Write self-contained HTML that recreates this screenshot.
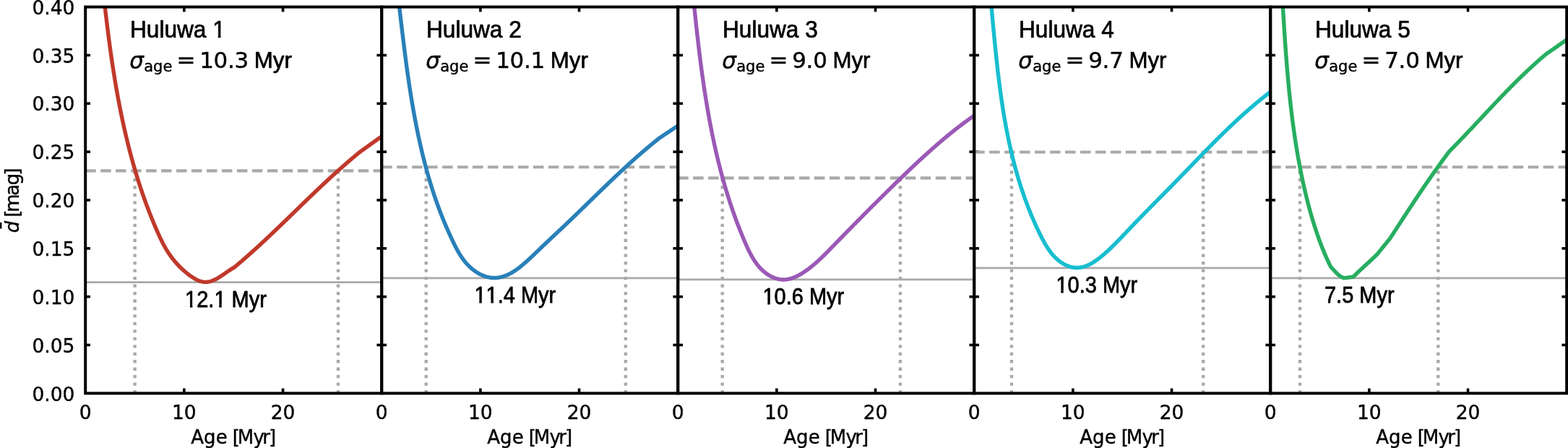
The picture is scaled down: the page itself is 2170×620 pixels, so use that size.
<!DOCTYPE html>
<html lang="en"><head><meta charset="utf-8">
<style>html,body{margin:0;padding:0;background:#fff}svg{display:block}.dv{font-family:"DejaVu Sans",sans-serif}.lib{font-family:"Liberation Sans",sans-serif}text{fill:#000;stroke:#000;stroke-width:0.4px;stroke-linejoin:round;font-kerning:none;font-variant-ligatures:none}.lib{stroke-width:0.7px}</style></head><body>
<svg width="2170" height="620" viewBox="0 0 2170 620">
<rect width="2170" height="620" fill="#fff"/>
<defs>
<clipPath id="c0"><rect x="118.20" y="9.60" width="410.00" height="534.70"/></clipPath>
<clipPath id="c1"><rect x="528.20" y="9.60" width="410.00" height="534.70"/></clipPath>
<clipPath id="c2"><rect x="938.20" y="9.60" width="410.00" height="534.70"/></clipPath>
<clipPath id="c3"><rect x="1348.20" y="9.60" width="410.00" height="534.70"/></clipPath>
<clipPath id="c4"><rect x="1758.20" y="9.60" width="410.00" height="534.70"/></clipPath>
</defs>
<g stroke="#000" stroke-width="3.6">
<line x1="254.87" x2="254.87" y1="544.30" y2="537.50"/>
<line x1="254.87" x2="254.87" y1="9.60" y2="16.40"/>
<line x1="391.53" x2="391.53" y1="544.30" y2="537.50"/>
<line x1="391.53" x2="391.53" y1="9.60" y2="16.40"/>
<line x1="118.20" x2="125.00" y1="477.46" y2="477.46"/>
<line x1="528.20" x2="521.40" y1="477.46" y2="477.46"/>
<line x1="118.20" x2="125.00" y1="410.62" y2="410.62"/>
<line x1="528.20" x2="521.40" y1="410.62" y2="410.62"/>
<line x1="118.20" x2="125.00" y1="343.79" y2="343.79"/>
<line x1="528.20" x2="521.40" y1="343.79" y2="343.79"/>
<line x1="118.20" x2="125.00" y1="276.95" y2="276.95"/>
<line x1="528.20" x2="521.40" y1="276.95" y2="276.95"/>
<line x1="118.20" x2="125.00" y1="210.11" y2="210.11"/>
<line x1="528.20" x2="521.40" y1="210.11" y2="210.11"/>
<line x1="118.20" x2="125.00" y1="143.27" y2="143.27"/>
<line x1="528.20" x2="521.40" y1="143.27" y2="143.27"/>
<line x1="118.20" x2="125.00" y1="76.44" y2="76.44"/>
<line x1="528.20" x2="521.40" y1="76.44" y2="76.44"/>
<line x1="664.87" x2="664.87" y1="544.30" y2="537.50"/>
<line x1="664.87" x2="664.87" y1="9.60" y2="16.40"/>
<line x1="801.53" x2="801.53" y1="544.30" y2="537.50"/>
<line x1="801.53" x2="801.53" y1="9.60" y2="16.40"/>
<line x1="528.20" x2="535.00" y1="477.46" y2="477.46"/>
<line x1="938.20" x2="931.40" y1="477.46" y2="477.46"/>
<line x1="528.20" x2="535.00" y1="410.62" y2="410.62"/>
<line x1="938.20" x2="931.40" y1="410.62" y2="410.62"/>
<line x1="528.20" x2="535.00" y1="343.79" y2="343.79"/>
<line x1="938.20" x2="931.40" y1="343.79" y2="343.79"/>
<line x1="528.20" x2="535.00" y1="276.95" y2="276.95"/>
<line x1="938.20" x2="931.40" y1="276.95" y2="276.95"/>
<line x1="528.20" x2="535.00" y1="210.11" y2="210.11"/>
<line x1="938.20" x2="931.40" y1="210.11" y2="210.11"/>
<line x1="528.20" x2="535.00" y1="143.27" y2="143.27"/>
<line x1="938.20" x2="931.40" y1="143.27" y2="143.27"/>
<line x1="528.20" x2="535.00" y1="76.44" y2="76.44"/>
<line x1="938.20" x2="931.40" y1="76.44" y2="76.44"/>
<line x1="1074.87" x2="1074.87" y1="544.30" y2="537.50"/>
<line x1="1074.87" x2="1074.87" y1="9.60" y2="16.40"/>
<line x1="1211.53" x2="1211.53" y1="544.30" y2="537.50"/>
<line x1="1211.53" x2="1211.53" y1="9.60" y2="16.40"/>
<line x1="938.20" x2="945.00" y1="477.46" y2="477.46"/>
<line x1="1348.20" x2="1341.40" y1="477.46" y2="477.46"/>
<line x1="938.20" x2="945.00" y1="410.62" y2="410.62"/>
<line x1="1348.20" x2="1341.40" y1="410.62" y2="410.62"/>
<line x1="938.20" x2="945.00" y1="343.79" y2="343.79"/>
<line x1="1348.20" x2="1341.40" y1="343.79" y2="343.79"/>
<line x1="938.20" x2="945.00" y1="276.95" y2="276.95"/>
<line x1="1348.20" x2="1341.40" y1="276.95" y2="276.95"/>
<line x1="938.20" x2="945.00" y1="210.11" y2="210.11"/>
<line x1="1348.20" x2="1341.40" y1="210.11" y2="210.11"/>
<line x1="938.20" x2="945.00" y1="143.27" y2="143.27"/>
<line x1="1348.20" x2="1341.40" y1="143.27" y2="143.27"/>
<line x1="938.20" x2="945.00" y1="76.44" y2="76.44"/>
<line x1="1348.20" x2="1341.40" y1="76.44" y2="76.44"/>
<line x1="1484.87" x2="1484.87" y1="544.30" y2="537.50"/>
<line x1="1484.87" x2="1484.87" y1="9.60" y2="16.40"/>
<line x1="1621.53" x2="1621.53" y1="544.30" y2="537.50"/>
<line x1="1621.53" x2="1621.53" y1="9.60" y2="16.40"/>
<line x1="1348.20" x2="1355.00" y1="477.46" y2="477.46"/>
<line x1="1758.20" x2="1751.40" y1="477.46" y2="477.46"/>
<line x1="1348.20" x2="1355.00" y1="410.62" y2="410.62"/>
<line x1="1758.20" x2="1751.40" y1="410.62" y2="410.62"/>
<line x1="1348.20" x2="1355.00" y1="343.79" y2="343.79"/>
<line x1="1758.20" x2="1751.40" y1="343.79" y2="343.79"/>
<line x1="1348.20" x2="1355.00" y1="276.95" y2="276.95"/>
<line x1="1758.20" x2="1751.40" y1="276.95" y2="276.95"/>
<line x1="1348.20" x2="1355.00" y1="210.11" y2="210.11"/>
<line x1="1758.20" x2="1751.40" y1="210.11" y2="210.11"/>
<line x1="1348.20" x2="1355.00" y1="143.27" y2="143.27"/>
<line x1="1758.20" x2="1751.40" y1="143.27" y2="143.27"/>
<line x1="1348.20" x2="1355.00" y1="76.44" y2="76.44"/>
<line x1="1758.20" x2="1751.40" y1="76.44" y2="76.44"/>
<line x1="1894.87" x2="1894.87" y1="544.30" y2="537.50"/>
<line x1="1894.87" x2="1894.87" y1="9.60" y2="16.40"/>
<line x1="2031.53" x2="2031.53" y1="544.30" y2="537.50"/>
<line x1="2031.53" x2="2031.53" y1="9.60" y2="16.40"/>
<line x1="1758.20" x2="1765.00" y1="477.46" y2="477.46"/>
<line x1="2168.20" x2="2161.40" y1="477.46" y2="477.46"/>
<line x1="1758.20" x2="1765.00" y1="410.62" y2="410.62"/>
<line x1="2168.20" x2="2161.40" y1="410.62" y2="410.62"/>
<line x1="1758.20" x2="1765.00" y1="343.79" y2="343.79"/>
<line x1="2168.20" x2="2161.40" y1="343.79" y2="343.79"/>
<line x1="1758.20" x2="1765.00" y1="276.95" y2="276.95"/>
<line x1="2168.20" x2="2161.40" y1="276.95" y2="276.95"/>
<line x1="1758.20" x2="1765.00" y1="210.11" y2="210.11"/>
<line x1="2168.20" x2="2161.40" y1="210.11" y2="210.11"/>
<line x1="1758.20" x2="1765.00" y1="143.27" y2="143.27"/>
<line x1="2168.20" x2="2161.40" y1="143.27" y2="143.27"/>
<line x1="1758.20" x2="1765.00" y1="76.44" y2="76.44"/>
<line x1="2168.20" x2="2161.40" y1="76.44" y2="76.44"/>
</g>
<g clip-path="url(#c0)">
<line x1="118.20" x2="528.20" y1="390.57" y2="390.57" stroke="#a9a9a9" stroke-width="2.7"/>
<line x1="118.20" x2="528.20" y1="236.45" y2="236.45" stroke="#a9a9a9" stroke-width="4.2" stroke-dasharray="14.5 6.47"/>
<line x1="186.60" x2="186.60" y1="544.30" y2="236.45" stroke="#a9a9a9" stroke-width="4.4" stroke-dasharray="4.3 6.17"/>
<line x1="468.00" x2="468.00" y1="544.30" y2="236.45" stroke="#a9a9a9" stroke-width="4.4" stroke-dasharray="4.3 6.17"/>
<path d="M143.10,-10.00 L143.21,-9.01 L143.32,-8.02 L143.42,-7.02 L143.53,-6.03 L143.64,-5.04 L143.75,-4.05 L143.86,-3.05 L143.97,-2.06 L144.08,-1.07 L144.19,-0.08 L144.30,0.92 L144.41,1.91 L144.52,2.90 L144.63,3.90 L144.74,4.89 L144.85,5.88 L144.96,6.88 L145.08,7.87 L145.19,8.87 L145.30,9.86 L145.41,10.85 L145.53,11.85 L145.64,12.84 L145.76,13.84 L145.87,14.83 L145.98,15.83 L146.10,16.82 L146.22,17.82 L146.33,18.81 L146.45,19.81 L146.56,20.80 L146.68,21.80 L146.80,22.79 L146.92,23.79 L147.03,24.78 L147.15,25.78 L147.27,26.77 L147.39,27.77 L147.51,28.76 L147.63,29.76 L147.75,30.75 L147.87,31.75 L147.99,32.74 L148.11,33.74 L148.24,34.74 L148.36,35.73 L148.48,36.73 L148.60,37.72 L148.73,38.72 L148.85,39.72 L148.98,40.71 L149.10,41.71 L149.23,42.70 L149.35,43.70 L149.48,44.70 L149.60,45.69 L149.73,46.69 L149.86,47.68 L149.99,48.68 L150.12,49.68 L150.24,50.67 L150.37,51.67 L150.50,52.67 L150.63,53.66 L150.77,54.66 L150.90,55.65 L151.03,56.65 L151.16,57.65 L151.29,58.64 L151.43,59.64 L151.56,60.64 L151.70,61.63 L151.83,62.63 L151.97,63.62 L152.10,64.62 L152.24,65.62 L152.38,66.61 L152.51,67.61 L152.65,68.60 L152.79,69.60 L152.93,70.60 L153.07,71.59 L153.21,72.59 L153.35,73.58 L153.49,74.58 L153.63,75.58 L153.77,76.57 L153.92,77.57 L154.06,78.56 L154.21,79.56 L154.35,80.55 L154.50,81.55 L154.64,82.55 L154.79,83.54 L154.94,84.54 L155.08,85.53 L155.23,86.53 L155.38,87.52 L155.53,88.52 L155.68,89.51 L155.83,90.51 L155.98,91.50 L156.13,92.50 L156.29,93.49 L156.44,94.49 L156.59,95.48 L156.75,96.47 L156.90,97.47 L157.06,98.46 L157.22,99.46 L157.37,100.45 L157.53,101.45 L157.69,102.44 L157.85,103.43 L158.01,104.43 L158.17,105.42 L158.33,106.41 L158.49,107.41 L158.65,108.40 L158.82,109.39 L158.98,110.39 L159.15,111.38 L159.31,112.37 L159.48,113.36 L159.64,114.36 L159.81,115.35 L159.98,116.34 L160.15,117.33 L160.32,118.33 L160.49,119.32 L160.66,120.31 L160.83,121.30 L161.00,122.29 L161.18,123.28 L161.35,124.28 L161.52,125.27 L161.70,126.26 L161.88,127.25 L162.05,128.24 L162.23,129.23 L162.41,130.22 L162.59,131.21 L162.77,132.20 L162.95,133.19 L163.13,134.18 L163.31,135.17 L163.50,136.16 L163.68,137.15 L163.87,138.14 L164.05,139.12 L164.24,140.11 L164.42,141.10 L164.61,142.09 L164.80,143.08 L164.99,144.07 L165.18,145.05 L165.37,146.04 L165.56,147.03 L165.76,148.01 L165.95,149.00 L166.15,149.99 L166.34,150.97 L166.54,151.96 L166.73,152.95 L166.93,153.93 L167.13,154.92 L167.33,155.90 L167.53,156.89 L167.73,157.87 L167.94,158.86 L168.14,159.84 L168.34,160.83 L168.55,161.81 L168.75,162.80 L168.96,163.78 L169.17,164.76 L169.38,165.75 L169.59,166.73 L169.80,167.71 L170.01,168.69 L170.22,169.68 L170.43,170.66 L170.65,171.64 L170.86,172.62 L171.08,173.60 L171.29,174.58 L171.51,175.57 L171.73,176.55 L171.95,177.53 L172.17,178.51 L172.39,179.49 L172.62,180.47 L172.84,181.44 L173.06,182.42 L173.29,183.40 L173.51,184.38 L173.74,185.36 L173.97,186.34 L174.20,187.31 L174.43,188.29 L174.66,189.27 L174.89,190.24 L175.13,191.22 L175.36,192.20 L175.60,193.17 L175.83,194.15 L176.07,195.12 L176.31,196.10 L176.55,197.07 L176.79,198.05 L177.03,199.02 L177.27,200.00 L177.51,200.97 L177.76,201.94 L178.00,202.91 L178.25,203.89 L178.50,204.86 L178.75,205.83 L179.00,206.80 L179.25,207.77 L179.50,208.74 L179.75,209.72 L180.01,210.69 L180.26,211.66 L180.52,212.62 L180.77,213.59 L181.03,214.56 L181.29,215.53 L181.55,216.50 L181.81,217.47 L182.08,218.43 L182.34,219.40 L182.61,220.37 L182.87,221.34 L183.14,222.30 L183.41,223.27 L183.68,224.23 L183.95,225.20 L184.22,226.16 L184.49,227.13 L184.76,228.09 L185.04,229.05 L185.32,230.02 L185.59,230.98 L185.87,231.94 L186.15,232.90 L186.43,233.87 L186.71,234.83 L187.00,235.79 L187.28,236.75 L187.57,237.71 L187.85,238.67 L188.14,239.63 L188.43,240.59 L188.72,241.55 L189.01,242.50 L189.30,243.46 L189.60,244.42 L189.89,245.38 L190.19,246.33 L190.49,247.29 L190.79,248.24 L191.09,249.20 L191.39,250.15 L191.69,251.11 L191.99,252.06 L192.30,253.02 L192.60,253.97 L192.91,254.92 L193.22,255.87 L193.53,256.83 L193.84,257.78 L194.15,258.73 L194.46,259.68 L194.78,260.63 L195.10,261.58 L195.41,262.53 L195.73,263.48 L196.05,264.43 L196.37,265.37 L196.70,266.32 L197.02,267.27 L197.34,268.21 L197.67,269.16 L198.00,270.11 L198.33,271.05 L198.66,272.00 L198.99,272.94 L199.32,273.88 L199.66,274.83 L199.99,275.77 L200.33,276.71 L200.67,277.65 L201.01,278.60 L201.35,279.54 L201.69,280.48 L202.03,281.42 L202.38,282.36 L202.72,283.30 L203.07,284.23 L203.42,285.17 L203.77,286.11 L204.12,287.05 L204.47,287.98 L204.83,288.92 L205.18,289.85 L205.54,290.79 L205.90,291.72 L206.26,292.66 L206.62,293.59 L206.98,294.52 L207.35,295.46 L207.71,296.39 L208.08,297.32 L208.45,298.25 L208.82,299.18 L209.19,300.11 L209.56,301.04 L209.94,301.97 L210.31,302.90 L210.69,303.82 L211.07,304.75 L211.45,305.68 L211.83,306.60 L212.21,307.53 L212.60,308.46 L212.98,309.38 L213.37,310.30 L213.76,311.23 L214.15,312.15 L214.54,313.07 L214.93,313.99 L215.33,314.91 L215.72,315.83 L216.12,316.75 L216.52,317.67 L216.92,318.59 L217.32,319.51 L217.72,320.43 L218.13,321.35 L218.54,322.26 L218.95,323.18 L219.36,324.09 L219.77,325.01 L220.19,325.92 L220.61,326.83 L221.03,327.74 L221.45,328.65 L221.88,329.55 L222.31,330.46 L222.75,331.36 L223.19,332.27 L223.63,333.17 L224.08,334.07 L224.53,334.96 L224.99,335.86 L225.45,336.75 L225.92,337.64 L226.39,338.53 L226.87,339.41 L227.35,340.29 L227.84,341.17 L228.33,342.05 L228.83,342.93 L229.34,343.80 L229.85,344.67 L230.37,345.53 L230.90,346.39 L231.43,347.25 L231.98,348.11 L232.52,348.96 L233.08,349.81 L233.64,350.66 L234.21,351.50 L234.78,352.33 L235.37,353.17 L235.95,354.00 L236.55,354.82 L237.15,355.64 L237.76,356.46 L238.38,357.27 L239.00,358.08 L239.63,358.88 L240.27,359.68 L240.91,360.47 L241.56,361.26 L242.21,362.04 L242.87,362.82 L243.54,363.59 L244.22,364.36 L244.90,365.12 L245.59,365.88 L246.28,366.63 L246.98,367.37 L247.69,368.11 L248.40,368.85 L249.12,369.57 L249.85,370.29 L250.58,371.01 L251.32,371.71 L252.06,372.42 L252.81,373.11 L253.57,373.80 L254.33,374.48 L255.10,375.15 L255.87,375.82 L256.65,376.48 L257.44,377.13 L258.23,377.78 L259.03,378.41 L259.83,379.04 L260.64,379.67 L261.46,380.28 L262.28,380.89 L263.11,381.49 L263.94,382.08 L264.78,382.66 L265.62,383.23 L266.47,383.80 L267.33,384.35 L268.19,384.89 L269.05,385.42 L269.93,385.93 L270.80,386.42 L271.69,386.89 L272.57,387.34 L273.47,387.77 L274.36,388.17 L275.27,388.54 L276.17,388.88 L277.08,389.19 L278.00,389.47 L278.92,389.72 L279.85,389.92 L280.78,390.09 L281.71,390.22 L282.65,390.31 L283.59,390.35 L284.54,390.35 L285.49,390.31 L286.44,390.24 L287.39,390.12 L288.35,389.97 L289.30,389.78 L290.26,389.56 L291.21,389.31 L292.17,389.03 L293.12,388.72 L294.07,388.37 L295.02,388.01 L295.97,387.61 L296.91,387.19 L297.85,386.75 L298.78,386.28 L299.71,385.80 L300.64,385.30 L301.56,384.78 L302.47,384.24 L303.39,383.69 L304.29,383.12 L305.19,382.55 L306.09,381.97 L306.99,381.37 L307.87,380.78 L308.76,380.17 L309.64,379.57 L310.51,378.96 L311.38,378.35 L312.25,377.75 L313.11,377.14 L313.97,376.55 L314.82,375.95 L315.67,375.37 L316.51,374.80 L317.35,374.23 L318.18,373.68 L319.01,373.15 L319.84,372.62 L320.66,372.12 L321.47,371.63 L322.29,371.17 L323.10,370.72 L323.90,370.30 L324.67,369.66 L325.45,369.01 L326.22,368.36 L326.99,367.72 L327.76,367.07 L328.53,366.42 L329.30,365.77 L330.07,365.12 L330.84,364.46 L331.60,363.81 L332.37,363.16 L333.14,362.50 L333.90,361.85 L334.66,361.19 L335.43,360.53 L336.19,359.87 L336.95,359.21 L337.71,358.55 L338.47,357.89 L339.23,357.23 L339.98,356.57 L340.74,355.90 L341.50,355.24 L342.25,354.57 L343.01,353.91 L343.76,353.24 L344.51,352.57 L345.27,351.91 L346.02,351.24 L346.77,350.57 L347.52,349.90 L348.27,349.23 L349.02,348.55 L349.77,347.88 L350.52,347.21 L351.27,346.53 L352.01,345.86 L352.76,345.18 L353.50,344.51 L354.25,343.83 L354.99,343.15 L355.74,342.47 L356.48,341.79 L357.22,341.12 L357.96,340.44 L358.71,339.75 L359.45,339.07 L360.19,338.39 L360.93,337.71 L361.67,337.03 L362.41,336.34 L363.14,335.66 L363.88,334.97 L364.62,334.29 L365.36,333.60 L366.09,332.92 L366.83,332.23 L367.56,331.54 L368.30,330.85 L369.03,330.17 L369.77,329.48 L370.50,328.79 L371.23,328.10 L371.97,327.41 L372.70,326.72 L373.43,326.03 L374.16,325.34 L374.89,324.64 L375.62,323.95 L376.36,323.26 L377.09,322.57 L377.82,321.87 L378.55,321.18 L379.27,320.49 L380.00,319.79 L380.73,319.10 L381.46,318.40 L382.19,317.71 L382.92,317.01 L383.64,316.31 L384.37,315.62 L385.10,314.92 L385.82,314.22 L386.55,313.53 L387.28,312.83 L388.00,312.13 L388.73,311.43 L389.45,310.73 L390.18,310.04 L390.90,309.34 L391.63,308.64 L392.35,307.94 L393.08,307.24 L393.80,306.54 L394.53,305.84 L395.25,305.14 L395.97,304.44 L396.70,303.74 L397.42,303.04 L398.14,302.34 L398.87,301.64 L399.59,300.94 L400.31,300.24 L401.04,299.54 L401.76,298.84 L402.48,298.14 L403.21,297.43 L403.93,296.73 L404.65,296.03 L405.37,295.33 L406.10,294.63 L406.82,293.93 L407.54,293.23 L408.26,292.53 L408.99,291.83 L409.71,291.12 L410.43,290.42 L411.16,289.72 L411.88,289.02 L412.60,288.32 L413.32,287.62 L414.05,286.92 L414.77,286.22 L415.49,285.52 L416.22,284.81 L416.94,284.11 L417.66,283.41 L418.39,282.71 L419.11,282.01 L419.83,281.31 L420.56,280.61 L421.28,279.91 L422.00,279.21 L422.73,278.51 L423.45,277.81 L424.18,277.11 L424.90,276.42 L425.63,275.72 L426.35,275.02 L427.08,274.32 L427.80,273.62 L428.53,272.92 L429.25,272.23 L429.98,271.53 L430.71,270.83 L431.43,270.13 L432.16,269.44 L432.89,268.74 L433.62,268.05 L434.34,267.35 L435.07,266.65 L435.80,265.96 L436.53,265.27 L437.26,264.57 L437.99,263.88 L438.72,263.18 L439.45,262.49 L440.18,261.80 L440.91,261.10 L441.64,260.41 L442.37,259.72 L443.10,259.03 L443.83,258.34 L444.57,257.65 L445.30,256.96 L446.03,256.27 L446.77,255.58 L447.50,254.89 L448.24,254.20 L448.97,253.52 L449.71,252.83 L450.44,252.14 L451.18,251.46 L451.92,250.77 L452.65,250.09 L453.39,249.40 L454.13,248.72 L454.87,248.03 L455.61,247.35 L456.35,246.67 L457.09,245.99 L457.83,245.31 L458.57,244.63 L459.31,243.95 L460.06,243.27 L460.80,242.59 L461.54,241.91 L462.29,241.23 L463.03,240.56 L463.78,239.88 L464.53,239.21 L465.27,238.53 L466.02,237.86 L466.77,237.19 L467.52,236.51 L468.27,235.84 L469.02,235.17 L469.77,234.50 L470.52,233.83 L471.27,233.16 L472.03,232.49 L472.78,231.83 L473.53,231.16 L474.29,230.49 L475.05,229.83 L475.80,229.17 L476.56,228.50 L477.32,227.84 L478.08,227.18 L478.84,226.52 L479.60,225.86 L480.36,225.20 L481.12,224.54 L481.88,223.88 L482.65,223.23 L483.41,222.57 L484.18,221.92 L484.94,221.26 L485.71,220.61 L486.48,219.96 L487.24,219.31 L488.01,218.66 L488.78,218.01 L489.56,217.36 L490.33,216.71 L491.10,216.07 L491.87,215.42 L492.65,214.78 L493.43,214.14 L494.20,213.49 L494.98,212.85 L495.76,212.21 L496.54,211.57 L497.32,210.94 L498.10,210.30 L498.94,209.70 L499.77,209.10 L500.61,208.50 L501.44,207.90 L502.28,207.30 L503.12,206.70 L503.95,206.10 L504.79,205.50 L505.63,204.90 L506.46,204.30 L507.30,203.70 L508.14,203.10 L508.97,202.50 L509.81,201.90 L510.65,201.30 L511.49,200.70 L512.32,200.10 L513.16,199.50 L514.00,198.90 L514.84,198.31 L515.67,197.71 L516.51,197.11 L517.35,196.51 L518.19,195.91 L519.02,195.31 L519.86,194.72 L520.70,194.12 L521.54,193.52 L522.38,192.92 L523.22,192.33 L524.05,191.73 L524.89,191.13 L525.73,190.53 L526.57,189.94 L527.41,189.34 L528.25,188.74 L529.09,188.15 L529.93,187.55 L530.76,186.95 L531.60,186.36 L532.44,185.76 L533.28,185.16 L534.12,184.57 L534.96,183.97 L535.80,183.38 L536.64,182.78 L537.48,182.19 L538.32,181.59 L539.16,181.00 L540.00,180.40" fill="none" stroke="#c0392b" stroke-width="5.4" stroke-linejoin="round"/>
</g>
<g clip-path="url(#c1)">
<line x1="528.20" x2="938.20" y1="384.96" y2="384.96" stroke="#a9a9a9" stroke-width="2.7"/>
<line x1="528.20" x2="938.20" y1="231.23" y2="231.23" stroke="#a9a9a9" stroke-width="4.2" stroke-dasharray="14.5 6.47"/>
<line x1="589.70" x2="589.70" y1="544.30" y2="231.23" stroke="#a9a9a9" stroke-width="4.4" stroke-dasharray="4.3 6.17"/>
<line x1="865.80" x2="865.80" y1="544.30" y2="231.23" stroke="#a9a9a9" stroke-width="4.4" stroke-dasharray="4.3 6.17"/>
<path d="M550.30,-10.00 L550.42,-9.01 L550.54,-8.01 L550.66,-7.02 L550.77,-6.02 L550.89,-5.03 L551.01,-4.04 L551.13,-3.04 L551.25,-2.05 L551.37,-1.05 L551.48,-0.06 L551.60,0.94 L551.72,1.93 L551.84,2.93 L551.95,3.92 L552.07,4.91 L552.19,5.91 L552.31,6.90 L552.42,7.90 L552.54,8.89 L552.66,9.89 L552.77,10.88 L552.89,11.88 L553.01,12.87 L553.13,13.87 L553.24,14.86 L553.36,15.86 L553.48,16.86 L553.59,17.85 L553.71,18.85 L553.83,19.84 L553.94,20.84 L554.06,21.83 L554.18,22.83 L554.30,23.82 L554.41,24.82 L554.53,25.81 L554.65,26.81 L554.77,27.81 L554.88,28.80 L555.00,29.80 L555.12,30.79 L555.24,31.79 L555.35,32.78 L555.47,33.78 L555.59,34.78 L555.71,35.77 L555.83,36.77 L555.95,37.76 L556.07,38.76 L556.18,39.75 L556.30,40.75 L556.42,41.75 L556.54,42.74 L556.66,43.74 L556.78,44.73 L556.90,45.73 L557.02,46.73 L557.14,47.72 L557.26,48.72 L557.38,49.71 L557.50,50.71 L557.62,51.70 L557.74,52.70 L557.87,53.70 L557.99,54.69 L558.11,55.69 L558.23,56.68 L558.35,57.68 L558.48,58.67 L558.60,59.67 L558.72,60.66 L558.85,61.66 L558.97,62.66 L559.09,63.65 L559.22,64.65 L559.34,65.64 L559.47,66.64 L559.59,67.63 L559.72,68.63 L559.84,69.62 L559.97,70.62 L560.10,71.61 L560.22,72.61 L560.35,73.60 L560.48,74.60 L560.61,75.59 L560.74,76.59 L560.86,77.58 L560.99,78.58 L561.12,79.57 L561.25,80.57 L561.38,81.56 L561.51,82.56 L561.64,83.55 L561.78,84.55 L561.91,85.54 L562.04,86.54 L562.17,87.53 L562.31,88.52 L562.44,89.52 L562.57,90.51 L562.71,91.51 L562.84,92.50 L562.98,93.50 L563.11,94.49 L563.25,95.48 L563.39,96.48 L563.52,97.47 L563.66,98.46 L563.80,99.46 L563.94,100.45 L564.08,101.44 L564.22,102.44 L564.36,103.43 L564.50,104.42 L564.64,105.42 L564.78,106.41 L564.92,107.40 L565.07,108.39 L565.21,109.39 L565.36,110.38 L565.50,111.37 L565.65,112.36 L565.79,113.36 L565.94,114.35 L566.09,115.34 L566.23,116.33 L566.38,117.32 L566.53,118.32 L566.68,119.31 L566.83,120.30 L566.98,121.29 L567.13,122.28 L567.28,123.27 L567.44,124.26 L567.59,125.25 L567.75,126.24 L567.90,127.24 L568.06,128.23 L568.21,129.22 L568.37,130.21 L568.53,131.20 L568.68,132.19 L568.84,133.18 L569.00,134.17 L569.16,135.16 L569.32,136.15 L569.49,137.13 L569.65,138.12 L569.81,139.11 L569.98,140.10 L570.14,141.09 L570.31,142.08 L570.47,143.07 L570.64,144.06 L570.81,145.04 L570.98,146.03 L571.14,147.02 L571.31,148.01 L571.49,149.00 L571.66,149.98 L571.83,150.97 L572.00,151.96 L572.18,152.94 L572.35,153.93 L572.53,154.92 L572.71,155.90 L572.88,156.89 L573.06,157.88 L573.24,158.86 L573.42,159.85 L573.60,160.83 L573.78,161.82 L573.97,162.80 L574.15,163.79 L574.34,164.78 L574.52,165.76 L574.71,166.74 L574.89,167.73 L575.08,168.71 L575.27,169.70 L575.46,170.68 L575.65,171.66 L575.84,172.65 L576.04,173.63 L576.23,174.61 L576.43,175.60 L576.62,176.58 L576.82,177.56 L577.02,178.54 L577.22,179.53 L577.42,180.51 L577.62,181.49 L577.82,182.47 L578.02,183.45 L578.22,184.43 L578.43,185.42 L578.63,186.40 L578.84,187.38 L579.05,188.36 L579.26,189.34 L579.47,190.32 L579.68,191.30 L579.89,192.28 L580.10,193.26 L580.32,194.23 L580.53,195.21 L580.75,196.19 L580.97,197.17 L581.19,198.15 L581.41,199.13 L581.63,200.10 L581.85,201.08 L582.07,202.06 L582.30,203.04 L582.52,204.01 L582.75,204.99 L582.98,205.96 L583.20,206.94 L583.43,207.92 L583.67,208.89 L583.90,209.87 L584.13,210.84 L584.37,211.82 L584.60,212.79 L584.84,213.77 L585.08,214.74 L585.32,215.71 L585.56,216.69 L585.80,217.66 L586.04,218.63 L586.29,219.61 L586.53,220.58 L586.78,221.55 L587.03,222.52 L587.28,223.50 L587.53,224.47 L587.78,225.44 L588.03,226.41 L588.29,227.38 L588.54,228.35 L588.80,229.32 L589.06,230.29 L589.32,231.26 L589.58,232.23 L589.84,233.20 L590.10,234.17 L590.37,235.14 L590.63,236.10 L590.90,237.07 L591.17,238.04 L591.44,239.01 L591.71,239.97 L591.98,240.94 L592.26,241.91 L592.53,242.87 L592.81,243.84 L593.09,244.80 L593.37,245.77 L593.65,246.73 L593.93,247.69 L594.22,248.66 L594.50,249.62 L594.79,250.58 L595.08,251.54 L595.37,252.51 L595.66,253.47 L595.95,254.43 L596.24,255.39 L596.54,256.35 L596.83,257.31 L597.13,258.26 L597.43,259.22 L597.73,260.18 L598.04,261.14 L598.34,262.09 L598.64,263.05 L598.95,264.00 L599.26,264.96 L599.57,265.91 L599.88,266.87 L600.19,267.82 L600.51,268.77 L600.82,269.72 L601.14,270.67 L601.46,271.62 L601.78,272.57 L602.10,273.52 L602.43,274.47 L602.75,275.42 L603.08,276.36 L603.41,277.31 L603.74,278.26 L604.07,279.20 L604.40,280.14 L604.73,281.09 L605.07,282.03 L605.41,282.97 L605.75,283.91 L606.09,284.85 L606.43,285.79 L606.77,286.73 L607.12,287.67 L607.47,288.61 L607.81,289.54 L608.17,290.48 L608.52,291.41 L608.87,292.35 L609.23,293.28 L609.58,294.21 L609.94,295.14 L610.30,296.07 L610.66,297.00 L611.03,297.93 L611.39,298.86 L611.76,299.78 L612.13,300.71 L612.50,301.63 L612.87,302.56 L613.24,303.48 L613.62,304.40 L614.00,305.32 L614.37,306.24 L614.75,307.16 L615.14,308.08 L615.52,309.00 L615.91,309.91 L616.29,310.83 L616.68,311.74 L617.07,312.66 L617.47,313.57 L617.86,314.48 L618.26,315.39 L618.65,316.30 L619.05,317.21 L619.46,318.12 L619.86,319.03 L620.26,319.94 L620.67,320.85 L621.08,321.75 L621.49,322.66 L621.90,323.57 L622.32,324.48 L622.73,325.39 L623.15,326.29 L623.57,327.20 L623.99,328.11 L624.42,329.02 L624.84,329.93 L625.27,330.84 L625.70,331.75 L626.13,332.66 L626.57,333.57 L627.00,334.49 L627.44,335.40 L627.88,336.31 L628.33,337.22 L628.77,338.13 L629.22,339.05 L629.68,339.95 L630.14,340.86 L630.60,341.77 L631.07,342.68 L631.54,343.58 L632.02,344.48 L632.50,345.38 L632.99,346.27 L633.48,347.16 L633.98,348.05 L634.49,348.94 L635.00,349.82 L635.52,350.70 L636.05,351.57 L636.58,352.44 L637.12,353.30 L637.67,354.16 L638.23,355.01 L638.80,355.86 L639.37,356.70 L639.96,357.53 L640.55,358.36 L641.15,359.19 L641.76,360.00 L642.39,360.81 L643.02,361.61 L643.66,362.40 L644.32,363.19 L644.98,363.97 L645.66,364.73 L646.34,365.50 L647.04,366.25 L647.75,366.99 L648.47,367.72 L649.21,368.44 L649.95,369.16 L650.71,369.86 L651.48,370.55 L652.25,371.23 L653.04,371.89 L653.83,372.55 L654.64,373.19 L655.46,373.82 L656.28,374.43 L657.11,375.03 L657.95,375.62 L658.80,376.19 L659.66,376.75 L660.52,377.29 L661.39,377.81 L662.27,378.32 L663.16,378.81 L664.05,379.29 L664.95,379.75 L665.85,380.19 L666.76,380.61 L667.67,381.01 L668.59,381.39 L669.52,381.75 L670.45,382.10 L671.38,382.42 L672.32,382.72 L673.26,383.00 L674.20,383.26 L675.15,383.50 L676.10,383.71 L677.05,383.91 L678.01,384.08 L678.97,384.22 L679.92,384.34 L680.88,384.44 L681.85,384.51 L682.81,384.56 L683.77,384.58 L684.74,384.57 L685.70,384.54 L686.66,384.49 L687.63,384.41 L688.59,384.31 L689.55,384.18 L690.51,384.03 L691.47,383.86 L692.43,383.67 L693.38,383.45 L694.34,383.21 L695.29,382.95 L696.23,382.67 L697.18,382.37 L698.12,382.06 L699.05,381.72 L699.99,381.36 L700.92,380.98 L701.84,380.59 L702.76,380.18 L703.67,379.75 L704.58,379.31 L705.49,378.85 L706.39,378.37 L707.28,377.88 L708.17,377.38 L709.05,376.86 L709.93,376.33 L710.81,375.79 L711.68,375.23 L712.54,374.66 L713.40,374.08 L714.26,373.49 L715.11,372.89 L715.96,372.28 L716.80,371.67 L717.63,371.04 L718.47,370.41 L719.29,369.76 L720.12,369.12 L720.94,368.46 L721.75,367.80 L722.56,367.14 L723.36,366.47 L724.16,365.79 L724.96,365.11 L725.75,364.43 L726.54,363.75 L727.32,363.07 L728.10,362.38 L728.87,361.69 L729.64,361.00 L730.41,360.31 L731.17,359.62 L731.93,358.93 L732.68,358.24 L733.44,357.54 L734.19,356.85 L734.93,356.15 L735.67,355.46 L736.42,354.76 L737.15,354.06 L737.89,353.37 L738.62,352.67 L739.35,351.97 L740.08,351.27 L740.81,350.58 L741.54,349.88 L742.26,349.18 L742.99,348.48 L743.71,347.78 L744.43,347.09 L745.15,346.39 L745.87,345.69 L746.59,345.00 L747.31,344.30 L748.03,343.61 L748.75,342.91 L749.46,342.22 L750.18,341.53 L750.90,340.83 L751.62,340.14 L752.34,339.46 L753.07,338.77 L753.79,338.08 L754.51,337.39 L755.23,336.71 L755.96,336.02 L756.68,335.34 L757.40,334.66 L758.13,333.98 L758.85,333.29 L759.58,332.61 L760.30,331.93 L761.03,331.25 L761.76,330.57 L762.48,329.89 L763.21,329.21 L763.94,328.54 L764.66,327.86 L765.39,327.18 L766.12,326.50 L766.84,325.82 L767.57,325.14 L768.30,324.47 L769.02,323.79 L769.75,323.11 L770.48,322.43 L771.21,321.75 L771.93,321.07 L772.66,320.39 L773.39,319.71 L774.11,319.03 L774.84,318.35 L775.56,317.67 L776.29,316.99 L777.01,316.31 L777.74,315.62 L778.46,314.94 L779.19,314.26 L779.91,313.57 L780.63,312.89 L781.36,312.20 L782.08,311.51 L782.80,310.83 L783.53,310.14 L784.25,309.45 L784.97,308.76 L785.69,308.07 L786.41,307.39 L787.14,306.70 L787.86,306.01 L788.58,305.31 L789.30,304.62 L790.02,303.93 L790.74,303.24 L791.46,302.55 L792.18,301.85 L792.90,301.16 L793.62,300.47 L794.34,299.77 L795.06,299.08 L795.78,298.38 L796.50,297.69 L797.22,296.99 L797.94,296.30 L798.66,295.60 L799.38,294.91 L800.09,294.21 L800.81,293.51 L801.53,292.82 L802.25,292.12 L802.97,291.42 L803.69,290.72 L804.41,290.03 L805.12,289.33 L805.84,288.63 L806.56,287.93 L807.28,287.23 L808.00,286.53 L808.72,285.84 L809.43,285.14 L810.15,284.44 L810.87,283.74 L811.59,283.04 L812.31,282.34 L813.03,281.64 L813.74,280.94 L814.46,280.24 L815.18,279.54 L815.90,278.84 L816.62,278.14 L817.34,277.44 L818.06,276.74 L818.78,276.04 L819.49,275.34 L820.21,274.64 L820.93,273.94 L821.65,273.24 L822.37,272.54 L823.09,271.84 L823.81,271.14 L824.53,270.44 L825.25,269.74 L825.97,269.04 L826.69,268.34 L827.41,267.64 L828.13,266.94 L828.85,266.24 L829.57,265.54 L830.30,264.84 L831.02,264.14 L831.74,263.45 L832.46,262.75 L833.18,262.05 L833.91,261.35 L834.63,260.65 L835.35,259.96 L836.07,259.26 L836.80,258.56 L837.52,257.86 L838.25,257.17 L838.97,256.47 L839.69,255.78 L840.42,255.08 L841.14,254.38 L841.87,253.69 L842.60,252.99 L843.32,252.30 L844.05,251.61 L844.77,250.91 L845.50,250.22 L846.23,249.53 L846.96,248.83 L847.69,248.14 L848.41,247.45 L849.14,246.76 L849.87,246.07 L850.60,245.38 L851.33,244.69 L852.06,244.00 L852.79,243.31 L853.52,242.62 L854.26,241.93 L854.99,241.24 L855.72,240.56 L856.45,239.87 L857.19,239.18 L857.92,238.50 L858.66,237.81 L859.39,237.13 L860.13,236.44 L860.86,235.76 L861.60,235.08 L862.33,234.40 L863.07,233.71 L863.81,233.03 L864.55,232.35 L865.29,231.67 L866.03,230.99 L866.77,230.32 L867.51,229.64 L868.25,228.96 L868.99,228.29 L869.73,227.61 L870.48,226.93 L871.22,226.26 L871.96,225.59 L872.71,224.91 L873.45,224.24 L874.20,223.57 L874.94,222.90 L875.69,222.23 L876.44,221.56 L877.19,220.89 L877.94,220.23 L878.69,219.56 L879.44,218.90 L880.19,218.23 L880.94,217.57 L881.69,216.90 L882.44,216.24 L883.20,215.58 L883.95,214.92 L884.71,214.26 L885.46,213.60 L886.22,212.95 L886.98,212.29 L887.73,211.63 L888.49,210.98 L889.25,210.33 L890.01,209.67 L890.77,209.02 L891.53,208.37 L892.30,207.72 L893.06,207.07 L893.82,206.42 L894.59,205.78 L895.35,205.13 L896.12,204.49 L896.89,203.84 L897.66,203.20 L898.43,202.56 L899.19,201.92 L899.97,201.28 L900.74,200.64 L901.51,200.01 L902.28,199.37 L903.06,198.74 L903.83,198.10 L904.61,197.47 L905.38,196.84 L906.16,196.21 L906.94,195.58 L907.72,194.96 L908.50,194.33 L909.28,193.71 L910.06,193.08 L910.85,192.46 L911.63,191.84 L912.41,191.22 L913.20,190.60 L914.06,190.03 L914.91,189.46 L915.77,188.89 L916.62,188.33 L917.48,187.76 L918.33,187.19 L919.19,186.62 L920.04,186.05 L920.90,185.49 L921.75,184.92 L922.61,184.35 L923.46,183.78 L924.32,183.21 L925.17,182.65 L926.03,182.08 L926.89,181.51 L927.74,180.94 L928.60,180.38 L929.45,179.81 L930.31,179.24 L931.16,178.67 L932.02,178.11 L932.88,177.54 L933.73,176.97 L934.59,176.40 L935.44,175.84 L936.30,175.27 L937.16,174.70 L938.01,174.13 L938.87,173.57 L939.72,173.00 L940.58,172.43 L941.44,171.87 L942.29,171.30 L943.15,170.73 L944.01,170.17 L944.86,169.60 L945.72,169.03 L946.57,168.47 L947.43,167.90 L948.29,167.33 L949.14,166.77 L950.00,166.20" fill="none" stroke="#2980b9" stroke-width="5.4" stroke-linejoin="round"/>
</g>
<g clip-path="url(#c2)">
<line x1="938.20" x2="1348.20" y1="386.96" y2="386.96" stroke="#a9a9a9" stroke-width="2.7"/>
<line x1="938.20" x2="1348.20" y1="246.47" y2="246.47" stroke="#a9a9a9" stroke-width="4.2" stroke-dasharray="14.5 6.47"/>
<line x1="999.70" x2="999.70" y1="544.30" y2="246.47" stroke="#a9a9a9" stroke-width="4.4" stroke-dasharray="4.3 6.17"/>
<line x1="1245.90" x2="1245.90" y1="544.30" y2="246.47" stroke="#a9a9a9" stroke-width="4.4" stroke-dasharray="4.3 6.17"/>
<path d="M958.80,-10.00 L958.90,-9.01 L959.00,-8.02 L959.10,-7.03 L959.20,-6.04 L959.30,-5.05 L959.40,-4.06 L959.51,-3.06 L959.61,-2.07 L959.71,-1.08 L959.81,-0.09 L959.91,0.90 L960.01,1.90 L960.12,2.89 L960.22,3.88 L960.32,4.87 L960.42,5.87 L960.52,6.86 L960.63,7.85 L960.73,8.85 L960.83,9.84 L960.94,10.83 L961.04,11.83 L961.14,12.82 L961.25,13.81 L961.35,14.81 L961.46,15.80 L961.56,16.80 L961.66,17.79 L961.77,18.79 L961.87,19.78 L961.98,20.78 L962.09,21.77 L962.19,22.77 L962.30,23.76 L962.40,24.76 L962.51,25.75 L962.62,26.75 L962.72,27.74 L962.83,28.74 L962.94,29.73 L963.04,30.73 L963.15,31.73 L963.26,32.72 L963.37,33.72 L963.48,34.71 L963.59,35.71 L963.70,36.71 L963.81,37.70 L963.92,38.70 L964.03,39.70 L964.14,40.69 L964.25,41.69 L964.36,42.69 L964.47,43.68 L964.58,44.68 L964.69,45.68 L964.81,46.68 L964.92,47.67 L965.03,48.67 L965.14,49.67 L965.26,50.66 L965.37,51.66 L965.49,52.66 L965.60,53.66 L965.72,54.65 L965.83,55.65 L965.95,56.65 L966.06,57.65 L966.18,58.64 L966.30,59.64 L966.41,60.64 L966.53,61.64 L966.65,62.64 L966.77,63.63 L966.89,64.63 L967.01,65.63 L967.13,66.63 L967.25,67.62 L967.37,68.62 L967.49,69.62 L967.61,70.62 L967.73,71.61 L967.85,72.61 L967.98,73.61 L968.10,74.61 L968.22,75.61 L968.35,76.60 L968.47,77.60 L968.60,78.60 L968.72,79.60 L968.85,80.59 L968.97,81.59 L969.10,82.59 L969.23,83.59 L969.36,84.58 L969.48,85.58 L969.61,86.58 L969.74,87.58 L969.87,88.57 L970.00,89.57 L970.13,90.57 L970.26,91.57 L970.40,92.56 L970.53,93.56 L970.66,94.56 L970.79,95.55 L970.93,96.55 L971.06,97.55 L971.20,98.54 L971.33,99.54 L971.47,100.54 L971.61,101.53 L971.74,102.53 L971.88,103.53 L972.02,104.52 L972.16,105.52 L972.30,106.52 L972.44,107.51 L972.58,108.51 L972.72,109.50 L972.86,110.50 L973.00,111.49 L973.15,112.49 L973.29,113.49 L973.43,114.48 L973.58,115.48 L973.72,116.47 L973.87,117.47 L974.02,118.46 L974.16,119.46 L974.31,120.45 L974.46,121.45 L974.61,122.44 L974.76,123.43 L974.91,124.43 L975.06,125.42 L975.21,126.42 L975.37,127.41 L975.52,128.40 L975.67,129.40 L975.83,130.39 L975.98,131.38 L976.14,132.38 L976.30,133.37 L976.45,134.36 L976.61,135.36 L976.77,136.35 L976.93,137.34 L977.09,138.33 L977.25,139.32 L977.41,140.32 L977.57,141.31 L977.74,142.30 L977.90,143.29 L978.06,144.28 L978.23,145.27 L978.39,146.26 L978.56,147.25 L978.73,148.24 L978.90,149.23 L979.07,150.22 L979.24,151.21 L979.41,152.20 L979.58,153.19 L979.75,154.18 L979.92,155.17 L980.10,156.16 L980.27,157.15 L980.44,158.14 L980.62,159.13 L980.80,160.11 L980.97,161.10 L981.15,162.09 L981.33,163.08 L981.51,164.06 L981.69,165.05 L981.87,166.04 L982.06,167.02 L982.24,168.01 L982.42,169.00 L982.61,169.98 L982.80,170.97 L982.98,171.95 L983.17,172.94 L983.36,173.92 L983.55,174.91 L983.74,175.89 L983.93,176.87 L984.12,177.86 L984.31,178.84 L984.51,179.82 L984.70,180.81 L984.90,181.79 L985.09,182.77 L985.29,183.75 L985.49,184.74 L985.69,185.72 L985.89,186.70 L986.09,187.68 L986.29,188.66 L986.49,189.64 L986.69,190.62 L986.90,191.60 L987.10,192.58 L987.31,193.56 L987.52,194.54 L987.73,195.52 L987.94,196.50 L988.15,197.47 L988.36,198.45 L988.57,199.43 L988.78,200.41 L989.00,201.38 L989.21,202.36 L989.43,203.34 L989.64,204.31 L989.86,205.29 L990.08,206.26 L990.30,207.24 L990.52,208.21 L990.74,209.19 L990.97,210.16 L991.19,211.13 L991.42,212.11 L991.64,213.08 L991.87,214.05 L992.10,215.03 L992.33,216.00 L992.56,216.97 L992.79,217.94 L993.02,218.91 L993.25,219.88 L993.49,220.85 L993.72,221.82 L993.96,222.79 L994.20,223.76 L994.44,224.73 L994.68,225.70 L994.92,226.66 L995.16,227.63 L995.40,228.60 L995.65,229.57 L995.89,230.53 L996.14,231.50 L996.39,232.46 L996.63,233.43 L996.88,234.39 L997.13,235.36 L997.39,236.32 L997.64,237.29 L997.89,238.25 L998.15,239.21 L998.41,240.17 L998.66,241.14 L998.92,242.10 L999.18,243.06 L999.44,244.02 L999.71,244.98 L999.97,245.94 L1000.23,246.90 L1000.50,247.86 L1000.77,248.82 L1001.03,249.77 L1001.30,250.73 L1001.57,251.69 L1001.85,252.65 L1002.12,253.60 L1002.39,254.56 L1002.67,255.51 L1002.94,256.47 L1003.22,257.42 L1003.50,258.38 L1003.78,259.33 L1004.06,260.28 L1004.34,261.24 L1004.63,262.19 L1004.91,263.14 L1005.20,264.09 L1005.49,265.04 L1005.78,265.99 L1006.07,266.95 L1006.36,267.90 L1006.65,268.84 L1006.95,269.79 L1007.24,270.74 L1007.54,271.69 L1007.84,272.64 L1008.14,273.59 L1008.44,274.53 L1008.74,275.48 L1009.04,276.43 L1009.35,277.37 L1009.65,278.32 L1009.96,279.27 L1010.27,280.21 L1010.58,281.16 L1010.89,282.10 L1011.21,283.05 L1011.52,283.99 L1011.84,284.94 L1012.15,285.88 L1012.47,286.83 L1012.79,287.77 L1013.12,288.72 L1013.44,289.66 L1013.77,290.60 L1014.09,291.55 L1014.42,292.49 L1014.75,293.44 L1015.08,294.38 L1015.42,295.32 L1015.75,296.27 L1016.09,297.21 L1016.42,298.15 L1016.76,299.10 L1017.10,300.04 L1017.45,300.98 L1017.79,301.92 L1018.14,302.87 L1018.48,303.81 L1018.83,304.75 L1019.18,305.70 L1019.53,306.64 L1019.89,307.58 L1020.24,308.53 L1020.60,309.47 L1020.96,310.42 L1021.32,311.36 L1021.68,312.30 L1022.05,313.25 L1022.41,314.19 L1022.78,315.14 L1023.15,316.08 L1023.52,317.03 L1023.89,317.97 L1024.27,318.92 L1024.64,319.86 L1025.02,320.81 L1025.40,321.75 L1025.78,322.70 L1026.17,323.65 L1026.55,324.59 L1026.94,325.54 L1027.33,326.49 L1027.72,327.43 L1028.11,328.38 L1028.51,329.33 L1028.91,330.28 L1029.30,331.23 L1029.70,332.18 L1030.11,333.13 L1030.51,334.07 L1030.92,335.02 L1031.33,335.97 L1031.74,336.92 L1032.15,337.87 L1032.57,338.82 L1032.99,339.76 L1033.41,340.71 L1033.84,341.65 L1034.27,342.59 L1034.71,343.53 L1035.15,344.47 L1035.59,345.40 L1036.04,346.33 L1036.49,347.26 L1036.95,348.18 L1037.42,349.10 L1037.88,350.01 L1038.36,350.93 L1038.84,351.83 L1039.33,352.73 L1039.82,353.63 L1040.32,354.52 L1040.82,355.41 L1041.34,356.29 L1041.86,357.16 L1042.38,358.03 L1042.92,358.89 L1043.46,359.74 L1044.01,360.59 L1044.56,361.43 L1045.13,362.26 L1045.70,363.09 L1046.29,363.90 L1046.88,364.71 L1047.48,365.51 L1048.09,366.30 L1048.71,367.08 L1049.33,367.86 L1049.97,368.62 L1050.62,369.37 L1051.28,370.12 L1051.95,370.85 L1052.63,371.57 L1053.32,372.28 L1054.02,372.98 L1054.73,373.67 L1055.46,374.35 L1056.19,375.01 L1056.94,375.66 L1057.70,376.30 L1058.47,376.93 L1059.25,377.55 L1060.05,378.15 L1060.86,378.74 L1061.67,379.31 L1062.50,379.87 L1063.34,380.41 L1064.19,380.93 L1065.05,381.44 L1065.92,381.93 L1066.80,382.40 L1067.68,382.86 L1068.57,383.29 L1069.47,383.70 L1070.38,384.09 L1071.29,384.46 L1072.20,384.81 L1073.13,385.13 L1074.05,385.43 L1074.98,385.71 L1075.92,385.96 L1076.86,386.18 L1077.80,386.38 L1078.74,386.56 L1079.69,386.70 L1080.64,386.82 L1081.58,386.91 L1082.53,386.96 L1083.48,386.99 L1084.43,387.00 L1085.38,386.97 L1086.33,386.92 L1087.28,386.83 L1088.23,386.73 L1089.18,386.60 L1090.12,386.44 L1091.07,386.26 L1092.01,386.05 L1092.96,385.83 L1093.90,385.58 L1094.84,385.31 L1095.78,385.01 L1096.72,384.70 L1097.65,384.37 L1098.58,384.02 L1099.51,383.65 L1100.44,383.26 L1101.37,382.85 L1102.29,382.43 L1103.21,381.99 L1104.12,381.54 L1105.03,381.07 L1105.94,380.58 L1106.85,380.09 L1107.75,379.58 L1108.65,379.05 L1109.54,378.52 L1110.43,377.98 L1111.31,377.42 L1112.19,376.85 L1113.06,376.28 L1113.93,375.69 L1114.79,375.10 L1115.65,374.50 L1116.50,373.90 L1117.35,373.28 L1118.19,372.67 L1119.03,372.04 L1119.85,371.42 L1120.68,370.78 L1121.49,370.15 L1122.30,369.51 L1123.11,368.87 L1123.91,368.22 L1124.70,367.57 L1125.49,366.92 L1126.27,366.26 L1127.05,365.60 L1127.82,364.94 L1128.59,364.27 L1129.35,363.60 L1130.11,362.93 L1130.87,362.25 L1131.62,361.57 L1132.37,360.89 L1133.11,360.21 L1133.85,359.52 L1134.58,358.84 L1135.32,358.15 L1136.05,357.45 L1136.77,356.76 L1137.50,356.06 L1138.22,355.37 L1138.93,354.67 L1139.65,353.96 L1140.36,353.26 L1141.07,352.56 L1141.78,351.85 L1142.49,351.14 L1143.20,350.44 L1143.90,349.73 L1144.60,349.02 L1145.30,348.30 L1146.00,347.59 L1146.70,346.88 L1147.40,346.17 L1148.10,345.45 L1148.79,344.74 L1149.49,344.02 L1150.19,343.31 L1150.88,342.60 L1151.58,341.88 L1152.28,341.17 L1152.97,340.45 L1153.67,339.74 L1154.37,339.02 L1155.06,338.31 L1155.76,337.59 L1156.46,336.88 L1157.16,336.16 L1157.85,335.45 L1158.55,334.73 L1159.25,334.02 L1159.95,333.30 L1160.64,332.59 L1161.34,331.87 L1162.04,331.16 L1162.74,330.44 L1163.44,329.73 L1164.14,329.02 L1164.84,328.30 L1165.53,327.59 L1166.23,326.87 L1166.93,326.16 L1167.63,325.44 L1168.33,324.73 L1169.03,324.02 L1169.73,323.30 L1170.43,322.59 L1171.13,321.87 L1171.83,321.16 L1172.53,320.45 L1173.23,319.73 L1173.93,319.02 L1174.63,318.30 L1175.33,317.59 L1176.04,316.88 L1176.74,316.16 L1177.44,315.45 L1178.14,314.74 L1178.84,314.02 L1179.54,313.31 L1180.25,312.60 L1180.95,311.89 L1181.65,311.17 L1182.35,310.46 L1183.06,309.75 L1183.76,309.03 L1184.46,308.32 L1185.16,307.61 L1185.87,306.90 L1186.57,306.18 L1187.28,305.47 L1187.98,304.76 L1188.68,304.05 L1189.39,303.34 L1190.09,302.62 L1190.80,301.91 L1191.50,301.20 L1192.21,300.49 L1192.91,299.78 L1193.62,299.07 L1194.32,298.36 L1195.03,297.65 L1195.73,296.93 L1196.44,296.22 L1197.14,295.51 L1197.85,294.80 L1198.56,294.09 L1199.26,293.38 L1199.97,292.67 L1200.68,291.96 L1201.38,291.25 L1202.09,290.54 L1202.80,289.83 L1203.51,289.12 L1204.22,288.41 L1204.92,287.71 L1205.63,287.00 L1206.34,286.29 L1207.05,285.58 L1207.76,284.87 L1208.47,284.16 L1209.18,283.45 L1209.88,282.75 L1210.59,282.04 L1211.30,281.33 L1212.01,280.62 L1212.72,279.92 L1213.43,279.21 L1214.15,278.50 L1214.86,277.79 L1215.57,277.09 L1216.28,276.38 L1216.99,275.67 L1217.70,274.97 L1218.41,274.26 L1219.12,273.56 L1219.84,272.85 L1220.55,272.15 L1221.26,271.44 L1221.97,270.73 L1222.69,270.03 L1223.40,269.33 L1224.11,268.62 L1224.83,267.92 L1225.54,267.21 L1226.26,266.51 L1226.97,265.80 L1227.68,265.10 L1228.40,264.40 L1229.11,263.69 L1229.83,262.99 L1230.54,262.29 L1231.26,261.59 L1231.97,260.88 L1232.69,260.18 L1233.41,259.48 L1234.12,258.78 L1234.84,258.08 L1235.56,257.38 L1236.27,256.68 L1236.99,255.97 L1237.71,255.27 L1238.43,254.57 L1239.14,253.87 L1239.86,253.17 L1240.58,252.47 L1241.30,251.77 L1242.02,251.08 L1242.74,250.38 L1243.46,249.68 L1244.18,248.98 L1244.90,248.28 L1245.62,247.58 L1246.34,246.89 L1247.06,246.19 L1247.78,245.49 L1248.50,244.80 L1249.22,244.10 L1249.94,243.40 L1250.66,242.71 L1251.39,242.01 L1252.11,241.32 L1252.83,240.62 L1253.55,239.93 L1254.28,239.23 L1255.00,238.54 L1255.73,237.85 L1256.45,237.15 L1257.18,236.46 L1257.90,235.77 L1258.63,235.08 L1259.35,234.39 L1260.08,233.70 L1260.81,233.01 L1261.53,232.32 L1262.26,231.63 L1262.99,230.94 L1263.72,230.25 L1264.45,229.56 L1265.18,228.88 L1265.91,228.19 L1266.64,227.50 L1267.37,226.82 L1268.10,226.13 L1268.83,225.45 L1269.57,224.77 L1270.30,224.08 L1271.03,223.40 L1271.77,222.72 L1272.50,222.04 L1273.24,221.36 L1273.97,220.68 L1274.71,220.00 L1275.44,219.32 L1276.18,218.64 L1276.92,217.96 L1277.66,217.29 L1278.40,216.61 L1279.14,215.93 L1279.88,215.26 L1280.62,214.59 L1281.36,213.91 L1282.10,213.24 L1282.84,212.57 L1283.59,211.90 L1284.33,211.23 L1285.08,210.56 L1285.82,209.89 L1286.57,209.22 L1287.32,208.56 L1288.06,207.89 L1288.81,207.22 L1289.56,206.56 L1290.31,205.90 L1291.06,205.23 L1291.81,204.57 L1292.56,203.91 L1293.32,203.25 L1294.07,202.59 L1294.82,201.93 L1295.58,201.28 L1296.33,200.62 L1297.09,199.97 L1297.85,199.31 L1298.60,198.66 L1299.36,198.01 L1300.12,197.35 L1300.88,196.70 L1301.65,196.05 L1302.41,195.41 L1303.17,194.76 L1303.93,194.11 L1304.70,193.47 L1305.46,192.82 L1306.23,192.18 L1307.00,191.54 L1307.77,190.90 L1308.54,190.25 L1309.31,189.62 L1310.08,188.98 L1310.85,188.34 L1311.62,187.71 L1312.40,187.07 L1313.17,186.44 L1313.95,185.81 L1314.72,185.17 L1315.50,184.55 L1316.28,183.92 L1317.06,183.29 L1317.84,182.66 L1318.62,182.04 L1319.40,181.41 L1320.19,180.79 L1320.97,180.17 L1321.76,179.55 L1322.55,178.93 L1323.33,178.31 L1324.12,177.70 L1324.91,177.08 L1325.70,176.47 L1326.50,175.86 L1327.29,175.25 L1328.08,174.64 L1328.88,174.03 L1329.67,173.42 L1330.47,172.81 L1331.27,172.21 L1332.07,171.61 L1332.87,171.01 L1333.67,170.41 L1334.48,169.81 L1335.28,169.21 L1336.09,168.61 L1336.89,168.02 L1337.70,167.43 L1338.51,166.84 L1339.32,166.25 L1340.13,165.66 L1340.95,165.07 L1341.76,164.48 L1342.58,163.90 L1343.39,163.32 L1344.21,162.74 L1345.03,162.16 L1345.85,161.58 L1346.67,161.00 L1347.50,160.43 L1348.32,159.85 L1349.15,159.28 L1349.97,158.71 L1350.80,158.14 L1351.63,157.58 L1352.46,157.01 L1353.29,156.45 L1354.13,155.89 L1354.96,155.33 L1355.80,154.77 L1356.64,154.21 L1357.47,153.66 L1358.32,153.10 L1359.16,152.55 L1360.00,152.00" fill="none" stroke="#9b59b6" stroke-width="5.4" stroke-linejoin="round"/>
</g>
<g clip-path="url(#c3)">
<line x1="1348.20" x2="1758.20" y1="370.79" y2="370.79" stroke="#a9a9a9" stroke-width="2.7"/>
<line x1="1348.20" x2="1758.20" y1="210.51" y2="210.51" stroke="#a9a9a9" stroke-width="4.2" stroke-dasharray="14.5 6.47"/>
<line x1="1400.00" x2="1400.00" y1="544.30" y2="210.51" stroke="#a9a9a9" stroke-width="4.4" stroke-dasharray="4.3 6.17"/>
<line x1="1665.20" x2="1665.20" y1="544.30" y2="210.51" stroke="#a9a9a9" stroke-width="4.4" stroke-dasharray="4.3 6.17"/>
<path d="M1370.20,-10.00 L1370.29,-9.01 L1370.39,-8.02 L1370.48,-7.03 L1370.58,-6.04 L1370.67,-5.04 L1370.77,-4.05 L1370.86,-3.06 L1370.95,-2.07 L1371.05,-1.08 L1371.14,-0.08 L1371.23,0.91 L1371.33,1.90 L1371.42,2.90 L1371.51,3.89 L1371.61,4.88 L1371.70,5.88 L1371.79,6.87 L1371.89,7.87 L1371.98,8.86 L1372.07,9.85 L1372.16,10.85 L1372.26,11.84 L1372.35,12.84 L1372.44,13.83 L1372.53,14.83 L1372.62,15.83 L1372.72,16.82 L1372.81,17.82 L1372.90,18.81 L1372.99,19.81 L1373.09,20.80 L1373.18,21.80 L1373.27,22.80 L1373.36,23.79 L1373.46,24.79 L1373.55,25.79 L1373.64,26.78 L1373.73,27.78 L1373.83,28.78 L1373.92,29.78 L1374.01,30.77 L1374.11,31.77 L1374.20,32.77 L1374.29,33.77 L1374.39,34.76 L1374.48,35.76 L1374.57,36.76 L1374.67,37.76 L1374.76,38.76 L1374.86,39.75 L1374.95,40.75 L1375.04,41.75 L1375.14,42.75 L1375.23,43.75 L1375.33,44.75 L1375.42,45.75 L1375.52,46.74 L1375.62,47.74 L1375.71,48.74 L1375.81,49.74 L1375.90,50.74 L1376.00,51.74 L1376.10,52.74 L1376.19,53.74 L1376.29,54.74 L1376.39,55.74 L1376.49,56.74 L1376.59,57.74 L1376.68,58.73 L1376.78,59.73 L1376.88,60.73 L1376.98,61.73 L1377.08,62.73 L1377.18,63.73 L1377.28,64.73 L1377.38,65.73 L1377.48,66.73 L1377.58,67.73 L1377.69,68.73 L1377.79,69.73 L1377.89,70.73 L1377.99,71.73 L1378.10,72.73 L1378.20,73.73 L1378.30,74.73 L1378.41,75.73 L1378.51,76.73 L1378.62,77.72 L1378.73,78.72 L1378.83,79.72 L1378.94,80.72 L1379.05,81.72 L1379.15,82.72 L1379.26,83.72 L1379.37,84.72 L1379.48,85.72 L1379.59,86.72 L1379.70,87.72 L1379.81,88.72 L1379.92,89.72 L1380.03,90.71 L1380.14,91.71 L1380.26,92.71 L1380.37,93.71 L1380.48,94.71 L1380.60,95.71 L1380.71,96.71 L1380.83,97.70 L1380.94,98.70 L1381.06,99.70 L1381.18,100.70 L1381.29,101.70 L1381.41,102.70 L1381.53,103.69 L1381.65,104.69 L1381.77,105.69 L1381.89,106.69 L1382.01,107.68 L1382.14,108.68 L1382.26,109.68 L1382.38,110.68 L1382.51,111.67 L1382.63,112.67 L1382.76,113.67 L1382.88,114.66 L1383.01,115.66 L1383.14,116.66 L1383.27,117.65 L1383.39,118.65 L1383.52,119.64 L1383.66,120.64 L1383.79,121.64 L1383.92,122.63 L1384.05,123.63 L1384.18,124.62 L1384.32,125.62 L1384.45,126.61 L1384.59,127.61 L1384.73,128.60 L1384.86,129.59 L1385.00,130.59 L1385.14,131.58 L1385.28,132.58 L1385.42,133.57 L1385.56,134.56 L1385.70,135.56 L1385.85,136.55 L1385.99,137.54 L1386.14,138.54 L1386.28,139.53 L1386.43,140.52 L1386.58,141.51 L1386.72,142.51 L1386.87,143.50 L1387.02,144.49 L1387.18,145.48 L1387.33,146.47 L1387.48,147.46 L1387.63,148.45 L1387.79,149.44 L1387.94,150.43 L1388.10,151.42 L1388.26,152.41 L1388.42,153.40 L1388.58,154.39 L1388.74,155.38 L1388.90,156.37 L1389.06,157.36 L1389.23,158.35 L1389.39,159.33 L1389.56,160.32 L1389.72,161.31 L1389.89,162.30 L1390.06,163.28 L1390.23,164.27 L1390.40,165.26 L1390.57,166.24 L1390.74,167.23 L1390.92,168.22 L1391.09,169.20 L1391.27,170.19 L1391.45,171.17 L1391.63,172.16 L1391.80,173.14 L1391.99,174.12 L1392.17,175.11 L1392.35,176.09 L1392.53,177.07 L1392.72,178.06 L1392.91,179.04 L1393.09,180.02 L1393.28,181.00 L1393.47,181.98 L1393.66,182.96 L1393.85,183.95 L1394.05,184.93 L1394.24,185.91 L1394.44,186.89 L1394.64,187.87 L1394.83,188.84 L1395.03,189.82 L1395.23,190.80 L1395.44,191.78 L1395.64,192.76 L1395.84,193.74 L1396.05,194.71 L1396.26,195.69 L1396.46,196.67 L1396.67,197.64 L1396.88,198.62 L1397.10,199.59 L1397.31,200.57 L1397.53,201.54 L1397.74,202.52 L1397.96,203.49 L1398.18,204.46 L1398.40,205.44 L1398.62,206.41 L1398.84,207.38 L1399.07,208.35 L1399.29,209.32 L1399.52,210.30 L1399.75,211.27 L1399.98,212.24 L1400.21,213.21 L1400.44,214.18 L1400.67,215.14 L1400.91,216.11 L1401.15,217.08 L1401.38,218.05 L1401.62,219.02 L1401.87,219.98 L1402.11,220.95 L1402.35,221.92 L1402.60,222.88 L1402.85,223.85 L1403.09,224.81 L1403.34,225.77 L1403.60,226.74 L1403.85,227.70 L1404.10,228.67 L1404.36,229.63 L1404.62,230.59 L1404.88,231.55 L1405.14,232.51 L1405.40,233.47 L1405.66,234.43 L1405.93,235.39 L1406.19,236.35 L1406.46,237.31 L1406.73,238.27 L1407.00,239.23 L1407.28,240.18 L1407.55,241.14 L1407.83,242.10 L1408.11,243.05 L1408.39,244.01 L1408.67,244.96 L1408.95,245.92 L1409.24,246.87 L1409.52,247.82 L1409.81,248.78 L1410.10,249.73 L1410.39,250.68 L1410.69,251.63 L1410.98,252.58 L1411.28,253.53 L1411.57,254.48 L1411.87,255.43 L1412.18,256.38 L1412.48,257.33 L1412.79,258.28 L1413.09,259.22 L1413.40,260.17 L1413.71,261.12 L1414.02,262.06 L1414.34,263.01 L1414.65,263.95 L1414.97,264.90 L1415.29,265.84 L1415.61,266.79 L1415.94,267.73 L1416.26,268.67 L1416.59,269.61 L1416.92,270.56 L1417.25,271.50 L1417.58,272.44 L1417.92,273.38 L1418.25,274.32 L1418.59,275.26 L1418.93,276.20 L1419.27,277.14 L1419.62,278.08 L1419.96,279.02 L1420.31,279.96 L1420.66,280.89 L1421.02,281.83 L1421.37,282.77 L1421.73,283.71 L1422.09,284.64 L1422.45,285.58 L1422.81,286.52 L1423.17,287.45 L1423.54,288.39 L1423.91,289.32 L1424.28,290.26 L1424.65,291.19 L1425.03,292.13 L1425.41,293.06 L1425.79,293.99 L1426.17,294.93 L1426.55,295.86 L1426.94,296.80 L1427.33,297.73 L1427.72,298.66 L1428.11,299.59 L1428.50,300.53 L1428.90,301.46 L1429.30,302.39 L1429.70,303.32 L1430.11,304.25 L1430.51,305.18 L1430.92,306.12 L1431.33,307.05 L1431.75,307.98 L1432.16,308.91 L1432.58,309.84 L1433.00,310.77 L1433.42,311.70 L1433.85,312.63 L1434.27,313.56 L1434.70,314.49 L1435.13,315.42 L1435.57,316.35 L1436.00,317.28 L1436.44,318.21 L1436.88,319.14 L1437.33,320.07 L1437.77,321.00 L1438.22,321.92 L1438.67,322.85 L1439.13,323.78 L1439.58,324.71 L1440.04,325.64 L1440.51,326.56 L1440.97,327.49 L1441.44,328.41 L1441.91,329.34 L1442.39,330.26 L1442.87,331.17 L1443.36,332.09 L1443.84,333.00 L1444.34,333.91 L1444.84,334.81 L1445.34,335.71 L1445.85,336.61 L1446.36,337.50 L1446.88,338.39 L1447.41,339.27 L1447.94,340.15 L1448.48,341.02 L1449.02,341.88 L1449.57,342.74 L1450.13,343.59 L1450.69,344.44 L1451.26,345.27 L1451.84,346.10 L1452.43,346.93 L1453.02,347.74 L1453.62,348.55 L1454.23,349.34 L1454.85,350.13 L1455.48,350.91 L1456.11,351.68 L1456.75,352.44 L1457.41,353.19 L1458.07,353.93 L1458.74,354.65 L1459.42,355.37 L1460.11,356.08 L1460.81,356.77 L1461.52,357.45 L1462.24,358.12 L1462.97,358.78 L1463.71,359.43 L1464.47,360.06 L1465.23,360.67 L1466.01,361.28 L1466.79,361.87 L1467.59,362.45 L1468.40,363.01 L1469.22,363.55 L1470.06,364.08 L1470.91,364.60 L1471.77,365.10 L1472.64,365.58 L1473.52,366.05 L1474.41,366.50 L1475.32,366.93 L1476.23,367.34 L1477.15,367.73 L1478.08,368.09 L1479.02,368.44 L1479.96,368.76 L1480.90,369.06 L1481.85,369.33 L1482.81,369.58 L1483.76,369.80 L1484.72,369.99 L1485.68,370.16 L1486.65,370.29 L1487.61,370.40 L1488.57,370.47 L1489.52,370.52 L1490.48,370.53 L1491.44,370.51 L1492.39,370.47 L1493.34,370.39 L1494.28,370.29 L1495.23,370.15 L1496.17,369.99 L1497.11,369.81 L1498.05,369.60 L1498.99,369.36 L1499.92,369.10 L1500.85,368.81 L1501.78,368.50 L1502.70,368.17 L1503.62,367.82 L1504.54,367.45 L1505.45,367.06 L1506.36,366.64 L1507.27,366.21 L1508.18,365.76 L1509.08,365.29 L1509.97,364.81 L1510.87,364.30 L1511.76,363.79 L1512.64,363.25 L1513.52,362.71 L1514.40,362.15 L1515.27,361.57 L1516.14,360.99 L1517.01,360.39 L1517.87,359.78 L1518.72,359.16 L1519.58,358.53 L1520.42,357.89 L1521.27,357.25 L1522.10,356.59 L1522.94,355.93 L1523.76,355.26 L1524.59,354.59 L1525.40,353.91 L1526.22,353.23 L1527.02,352.54 L1527.82,351.86 L1528.62,351.16 L1529.41,350.47 L1530.20,349.78 L1530.98,349.08 L1531.75,348.38 L1532.52,347.69 L1533.29,346.99 L1534.05,346.29 L1534.80,345.59 L1535.55,344.88 L1536.30,344.18 L1537.04,343.48 L1537.78,342.77 L1538.51,342.07 L1539.24,341.36 L1539.97,340.65 L1540.69,339.94 L1541.41,339.24 L1542.12,338.53 L1542.84,337.82 L1543.55,337.10 L1544.25,336.39 L1544.96,335.68 L1545.66,334.97 L1546.36,334.25 L1547.05,333.54 L1547.75,332.83 L1548.44,332.11 L1549.13,331.40 L1549.82,330.68 L1550.51,329.97 L1551.19,329.25 L1551.87,328.53 L1552.56,327.82 L1553.24,327.10 L1553.92,326.38 L1554.60,325.67 L1555.28,324.95 L1555.96,324.23 L1556.64,323.51 L1557.31,322.80 L1557.99,322.08 L1558.67,321.36 L1559.35,320.64 L1560.02,319.93 L1560.70,319.21 L1561.38,318.49 L1562.06,317.78 L1562.74,317.06 L1563.42,316.34 L1564.11,315.63 L1564.79,314.91 L1565.47,314.20 L1566.16,313.48 L1566.84,312.77 L1567.53,312.05 L1568.21,311.33 L1568.90,310.62 L1569.59,309.91 L1570.28,309.19 L1570.96,308.48 L1571.65,307.76 L1572.34,307.05 L1573.03,306.33 L1573.72,305.62 L1574.42,304.91 L1575.11,304.19 L1575.80,303.48 L1576.49,302.77 L1577.19,302.05 L1577.88,301.34 L1578.58,300.63 L1579.27,299.91 L1579.97,299.20 L1580.66,298.49 L1581.36,297.77 L1582.06,297.06 L1582.75,296.35 L1583.45,295.64 L1584.15,294.92 L1584.85,294.21 L1585.55,293.50 L1586.25,292.79 L1586.95,292.07 L1587.65,291.36 L1588.35,290.65 L1589.05,289.94 L1589.75,289.22 L1590.45,288.51 L1591.15,287.80 L1591.85,287.09 L1592.55,286.37 L1593.26,285.66 L1593.96,284.95 L1594.66,284.24 L1595.37,283.53 L1596.07,282.81 L1596.77,282.10 L1597.48,281.39 L1598.18,280.68 L1598.88,279.96 L1599.59,279.25 L1600.29,278.54 L1601.00,277.83 L1601.70,277.11 L1602.41,276.40 L1603.11,275.69 L1603.82,274.97 L1604.52,274.26 L1605.23,273.55 L1605.93,272.83 L1606.64,272.12 L1607.35,271.41 L1608.05,270.69 L1608.76,269.98 L1609.46,269.27 L1610.17,268.55 L1610.87,267.84 L1611.58,267.13 L1612.29,266.41 L1612.99,265.70 L1613.70,264.98 L1614.40,264.27 L1615.11,263.55 L1615.81,262.84 L1616.52,262.12 L1617.22,261.41 L1617.93,260.69 L1618.63,259.98 L1619.34,259.26 L1620.04,258.55 L1620.75,257.83 L1621.45,257.11 L1622.16,256.40 L1622.86,255.68 L1623.56,254.96 L1624.27,254.25 L1624.97,253.53 L1625.68,252.81 L1626.38,252.09 L1627.08,251.37 L1627.78,250.66 L1628.49,249.94 L1629.19,249.22 L1629.89,248.50 L1630.59,247.78 L1631.29,247.06 L1631.99,246.34 L1632.70,245.62 L1633.40,244.90 L1634.10,244.18 L1634.80,243.46 L1635.50,242.74 L1636.20,242.02 L1636.90,241.30 L1637.60,240.58 L1638.30,239.86 L1639.00,239.14 L1639.69,238.42 L1640.39,237.70 L1641.09,236.97 L1641.79,236.25 L1642.49,235.53 L1643.19,234.81 L1643.89,234.09 L1644.59,233.37 L1645.29,232.65 L1645.98,231.92 L1646.68,231.20 L1647.38,230.48 L1648.08,229.76 L1648.78,229.04 L1649.48,228.32 L1650.17,227.60 L1650.87,226.87 L1651.57,226.15 L1652.27,225.43 L1652.97,224.71 L1653.67,223.99 L1654.37,223.27 L1655.06,222.55 L1655.76,221.83 L1656.46,221.11 L1657.16,220.39 L1657.86,219.67 L1658.56,218.95 L1659.26,218.23 L1659.96,217.51 L1660.66,216.79 L1661.36,216.07 L1662.06,215.35 L1662.76,214.63 L1663.46,213.91 L1664.16,213.20 L1664.86,212.48 L1665.56,211.76 L1666.26,211.04 L1666.96,210.33 L1667.67,209.61 L1668.37,208.89 L1669.07,208.18 L1669.77,207.46 L1670.48,206.74 L1671.18,206.03 L1671.88,205.31 L1672.58,204.60 L1673.29,203.89 L1673.99,203.17 L1674.70,202.46 L1675.40,201.75 L1676.11,201.03 L1676.81,200.32 L1677.52,199.61 L1678.23,198.90 L1678.93,198.19 L1679.64,197.48 L1680.35,196.77 L1681.05,196.06 L1681.76,195.35 L1682.47,194.64 L1683.18,193.93 L1683.89,193.23 L1684.60,192.52 L1685.31,191.81 L1686.02,191.11 L1686.73,190.40 L1687.45,189.70 L1688.16,189.00 L1688.87,188.29 L1689.58,187.59 L1690.30,186.89 L1691.01,186.19 L1691.73,185.49 L1692.44,184.79 L1693.16,184.09 L1693.88,183.39 L1694.59,182.69 L1695.31,181.99 L1696.03,181.29 L1696.75,180.60 L1697.47,179.90 L1698.19,179.21 L1698.91,178.51 L1699.63,177.82 L1700.35,177.13 L1701.08,176.44 L1701.80,175.75 L1702.53,175.06 L1703.25,174.37 L1703.98,173.68 L1704.70,172.99 L1705.43,172.30 L1706.16,171.62 L1706.89,170.93 L1707.62,170.25 L1708.35,169.56 L1709.08,168.88 L1709.81,168.20 L1710.54,167.52 L1711.27,166.84 L1712.01,166.16 L1712.74,165.48 L1713.48,164.80 L1714.22,164.13 L1714.95,163.45 L1715.69,162.78 L1716.43,162.10 L1717.17,161.43 L1717.91,160.76 L1718.65,160.09 L1719.39,159.42 L1720.14,158.75 L1720.88,158.08 L1721.63,157.41 L1722.37,156.75 L1723.12,156.08 L1723.87,155.42 L1724.62,154.76 L1725.37,154.10 L1726.12,153.44 L1726.87,152.78 L1727.62,152.12 L1728.38,151.46 L1729.13,150.81 L1729.89,150.15 L1730.65,149.50 L1731.40,148.85 L1732.16,148.19 L1732.92,147.54 L1733.68,146.90 L1734.45,146.25 L1735.21,145.60 L1735.97,144.96 L1736.74,144.31 L1737.51,143.67 L1738.27,143.03 L1739.04,142.39 L1739.81,141.75 L1740.58,141.11 L1741.36,140.48 L1742.13,139.84 L1742.90,139.21 L1743.68,138.57 L1744.46,137.94 L1745.23,137.31 L1746.01,136.68 L1746.79,136.06 L1747.58,135.43 L1748.36,134.81 L1749.14,134.18 L1749.93,133.56 L1750.72,132.94 L1751.50,132.32 L1752.29,131.71 L1753.08,131.09 L1753.88,130.47 L1754.67,129.86 L1755.46,129.25 L1756.26,128.64 L1757.06,128.03 L1757.85,127.42 L1758.65,126.82 L1759.46,126.21 L1760.26,125.61 L1761.06,125.01 L1761.87,124.41 L1762.67,123.81 L1763.48,123.22 L1764.29,122.62 L1765.10,122.03 L1765.92,121.44 L1766.73,120.84 L1767.55,120.26 L1768.36,119.67 L1769.18,119.08 L1770.00,118.50" fill="none" stroke="#17becf" stroke-width="5.4" stroke-linejoin="round"/>
</g>
<g clip-path="url(#c4)">
<line x1="1758.20" x2="2168.20" y1="384.96" y2="384.96" stroke="#a9a9a9" stroke-width="2.7"/>
<line x1="1758.20" x2="2168.20" y1="231.23" y2="231.23" stroke="#a9a9a9" stroke-width="4.2" stroke-dasharray="14.5 6.47"/>
<line x1="1799.00" x2="1799.00" y1="544.30" y2="231.23" stroke="#a9a9a9" stroke-width="4.4" stroke-dasharray="4.3 6.17"/>
<line x1="1990.30" x2="1990.30" y1="544.30" y2="231.23" stroke="#a9a9a9" stroke-width="4.4" stroke-dasharray="4.3 6.17"/>
<path d="M1774.20,-10.00 L1774.26,-9.00 L1774.32,-8.00 L1774.38,-6.99 L1774.44,-5.99 L1774.50,-4.99 L1774.56,-3.99 L1774.62,-2.99 L1774.68,-1.98 L1774.74,-0.98 L1774.81,0.02 L1774.87,1.02 L1774.93,2.02 L1774.99,3.03 L1775.05,4.03 L1775.11,5.03 L1775.17,6.03 L1775.23,7.04 L1775.29,8.04 L1775.35,9.04 L1775.41,10.04 L1775.47,11.05 L1775.53,12.05 L1775.60,13.05 L1775.66,14.06 L1775.72,15.06 L1775.78,16.06 L1775.84,17.06 L1775.90,18.07 L1775.96,19.07 L1776.03,20.07 L1776.09,21.08 L1776.15,22.08 L1776.21,23.08 L1776.28,24.08 L1776.34,25.09 L1776.40,26.09 L1776.46,27.09 L1776.53,28.10 L1776.59,29.10 L1776.65,30.10 L1776.72,31.11 L1776.78,32.11 L1776.84,33.11 L1776.91,34.11 L1776.97,35.12 L1777.03,36.12 L1777.10,37.12 L1777.16,38.13 L1777.23,39.13 L1777.29,40.13 L1777.36,41.14 L1777.42,42.14 L1777.49,43.14 L1777.56,44.15 L1777.62,45.15 L1777.69,46.15 L1777.75,47.15 L1777.82,48.16 L1777.89,49.16 L1777.96,50.16 L1778.02,51.17 L1778.09,52.17 L1778.16,53.17 L1778.23,54.18 L1778.30,55.18 L1778.36,56.18 L1778.43,57.19 L1778.50,58.19 L1778.57,59.19 L1778.64,60.19 L1778.71,61.20 L1778.78,62.20 L1778.86,63.20 L1778.93,64.21 L1779.00,65.21 L1779.07,66.21 L1779.14,67.22 L1779.21,68.22 L1779.29,69.22 L1779.36,70.22 L1779.43,71.23 L1779.51,72.23 L1779.58,73.23 L1779.66,74.23 L1779.73,75.24 L1779.81,76.24 L1779.88,77.24 L1779.96,78.25 L1780.04,79.25 L1780.11,80.25 L1780.19,81.25 L1780.27,82.26 L1780.35,83.26 L1780.42,84.26 L1780.50,85.26 L1780.58,86.26 L1780.66,87.27 L1780.74,88.27 L1780.82,89.27 L1780.90,90.27 L1780.98,91.28 L1781.07,92.28 L1781.15,93.28 L1781.23,94.28 L1781.31,95.28 L1781.40,96.28 L1781.48,97.29 L1781.57,98.29 L1781.65,99.29 L1781.74,100.29 L1781.82,101.29 L1781.91,102.29 L1782.00,103.30 L1782.09,104.30 L1782.17,105.30 L1782.26,106.30 L1782.35,107.30 L1782.44,108.30 L1782.53,109.30 L1782.62,110.30 L1782.71,111.31 L1782.80,112.31 L1782.90,113.31 L1782.99,114.31 L1783.08,115.31 L1783.18,116.31 L1783.27,117.31 L1783.37,118.31 L1783.46,119.31 L1783.56,120.31 L1783.65,121.31 L1783.75,122.31 L1783.85,123.31 L1783.95,124.31 L1784.05,125.31 L1784.15,126.31 L1784.25,127.31 L1784.35,128.31 L1784.45,129.31 L1784.55,130.31 L1784.65,131.31 L1784.76,132.31 L1784.86,133.31 L1784.97,134.31 L1785.07,135.31 L1785.18,136.31 L1785.28,137.31 L1785.39,138.30 L1785.50,139.30 L1785.61,140.30 L1785.72,141.30 L1785.83,142.30 L1785.94,143.30 L1786.05,144.30 L1786.16,145.29 L1786.27,146.29 L1786.39,147.29 L1786.50,148.29 L1786.61,149.29 L1786.73,150.28 L1786.85,151.28 L1786.96,152.28 L1787.08,153.28 L1787.20,154.27 L1787.32,155.27 L1787.44,156.27 L1787.56,157.27 L1787.68,158.26 L1787.80,159.26 L1787.92,160.26 L1788.05,161.25 L1788.17,162.25 L1788.30,163.25 L1788.42,164.24 L1788.55,165.24 L1788.68,166.23 L1788.81,167.23 L1788.93,168.23 L1789.06,169.22 L1789.19,170.22 L1789.33,171.21 L1789.46,172.21 L1789.59,173.20 L1789.73,174.20 L1789.86,175.19 L1790.00,176.19 L1790.13,177.18 L1790.27,178.18 L1790.41,179.17 L1790.55,180.17 L1790.69,181.16 L1790.83,182.15 L1790.97,183.15 L1791.11,184.14 L1791.25,185.13 L1791.40,186.13 L1791.54,187.12 L1791.69,188.11 L1791.84,189.11 L1791.98,190.10 L1792.13,191.09 L1792.28,192.09 L1792.43,193.08 L1792.58,194.07 L1792.73,195.06 L1792.89,196.06 L1793.04,197.05 L1793.20,198.04 L1793.35,199.03 L1793.51,200.02 L1793.67,201.01 L1793.83,202.01 L1793.99,203.00 L1794.15,203.99 L1794.31,204.98 L1794.47,205.97 L1794.63,206.96 L1794.80,207.95 L1794.96,208.94 L1795.13,209.93 L1795.30,210.92 L1795.47,211.91 L1795.64,212.90 L1795.81,213.89 L1795.98,214.88 L1796.15,215.87 L1796.32,216.86 L1796.50,217.84 L1796.67,218.83 L1796.85,219.82 L1797.03,220.81 L1797.21,221.80 L1797.39,222.78 L1797.57,223.77 L1797.75,224.76 L1797.93,225.75 L1798.12,226.73 L1798.30,227.72 L1798.49,228.71 L1798.68,229.70 L1798.86,230.68 L1799.05,231.67 L1799.24,232.65 L1799.44,233.64 L1799.63,234.63 L1799.82,235.61 L1800.02,236.60 L1800.21,237.58 L1800.41,238.57 L1800.61,239.55 L1800.81,240.54 L1801.01,241.52 L1801.21,242.50 L1801.41,243.49 L1801.62,244.47 L1801.82,245.46 L1802.03,246.44 L1802.24,247.42 L1802.44,248.41 L1802.65,249.39 L1802.87,250.37 L1803.08,251.35 L1803.29,252.34 L1803.51,253.32 L1803.72,254.30 L1803.94,255.28 L1804.16,256.26 L1804.38,257.25 L1804.60,258.23 L1804.82,259.21 L1805.04,260.19 L1805.27,261.17 L1805.49,262.15 L1805.72,263.13 L1805.95,264.11 L1806.18,265.09 L1806.41,266.07 L1806.64,267.05 L1806.87,268.03 L1807.11,269.00 L1807.34,269.98 L1807.58,270.96 L1807.82,271.94 L1808.06,272.92 L1808.30,273.89 L1808.54,274.87 L1808.78,275.85 L1809.03,276.82 L1809.28,277.80 L1809.52,278.77 L1809.77,279.75 L1810.02,280.72 L1810.28,281.70 L1810.53,282.67 L1810.79,283.64 L1811.04,284.62 L1811.30,285.59 L1811.56,286.56 L1811.82,287.53 L1812.09,288.51 L1812.35,289.48 L1812.62,290.45 L1812.88,291.42 L1813.15,292.39 L1813.42,293.36 L1813.70,294.32 L1813.97,295.29 L1814.24,296.26 L1814.52,297.23 L1814.80,298.19 L1815.08,299.16 L1815.36,300.12 L1815.65,301.09 L1815.93,302.05 L1816.22,303.02 L1816.51,303.98 L1816.80,304.94 L1817.09,305.91 L1817.38,306.87 L1817.68,307.83 L1817.97,308.79 L1818.27,309.75 L1818.57,310.71 L1818.88,311.67 L1819.18,312.62 L1819.49,313.58 L1819.79,314.54 L1820.10,315.49 L1820.41,316.45 L1820.73,317.40 L1821.04,318.36 L1821.36,319.31 L1821.68,320.26 L1822.00,321.21 L1822.32,322.16 L1822.64,323.11 L1822.97,324.06 L1823.30,325.01 L1823.63,325.96 L1823.96,326.91 L1824.29,327.85 L1824.63,328.80 L1824.97,329.74 L1825.31,330.69 L1825.65,331.63 L1825.99,332.57 L1826.34,333.51 L1826.69,334.45 L1827.04,335.39 L1827.39,336.33 L1827.74,337.27 L1828.10,338.21 L1828.46,339.14 L1828.82,340.08 L1829.18,341.01 L1829.54,341.95 L1829.91,342.88 L1830.28,343.81 L1830.65,344.74 L1831.03,345.67 L1831.40,346.60 L1831.78,347.53 L1832.16,348.45 L1832.55,349.38 L1832.93,350.30 L1833.32,351.22 L1833.71,352.14 L1834.11,353.06 L1834.50,353.98 L1834.90,354.90 L1835.31,355.82 L1835.71,356.73 L1836.12,357.65 L1836.53,358.56 L1836.94,359.47 L1837.36,360.38 L1837.78,361.29 L1838.20,362.20 L1838.63,363.10 L1839.06,364.01 L1839.49,364.91 L1839.93,365.81 L1840.36,366.71 L1840.81,367.61 L1841.25,368.50 L1841.70,369.40 L1842.51,370.26 L1843.32,371.11 L1844.13,371.97 L1844.94,372.82 L1845.76,373.68 L1846.57,374.53 L1847.38,375.39 L1848.19,376.24 L1849.00,377.10 L1849.77,377.97 L1850.57,378.80 L1851.40,379.58 L1852.25,380.33 L1853.13,381.03 L1854.03,381.69 L1854.96,382.32 L1855.92,382.89 L1856.90,383.43 L1857.91,383.93 L1858.94,384.39 L1860.00,384.80 L1861.08,384.66 L1862.15,384.52 L1863.22,384.38 L1864.30,384.23 L1865.38,384.09 L1866.45,383.95 L1867.53,383.81 L1868.60,383.67 L1869.68,383.53 L1870.75,383.38 L1871.83,383.24 L1872.90,383.10 L1873.63,382.36 L1874.36,381.63 L1875.09,380.89 L1875.82,380.16 L1876.56,379.44 L1877.30,378.71 L1878.05,377.99 L1878.79,377.28 L1879.54,376.56 L1880.29,375.85 L1881.04,375.13 L1881.80,374.42 L1882.55,373.72 L1883.31,373.01 L1884.07,372.30 L1884.82,371.60 L1885.58,370.90 L1886.35,370.19 L1887.11,369.49 L1887.87,368.79 L1888.63,368.09 L1889.40,367.39 L1890.16,366.69 L1890.92,366.00 L1891.69,365.30 L1892.45,364.60 L1893.22,363.90 L1893.98,363.20 L1894.74,362.50 L1895.50,361.79 L1896.26,361.09 L1897.02,360.39 L1897.78,359.68 L1898.54,358.98 L1899.29,358.27 L1900.04,357.56 L1900.80,356.85 L1901.55,356.13 L1902.30,355.42 L1903.04,354.70 L1903.78,353.98 L1904.53,353.25 L1905.26,352.53 L1906.00,351.80 L1906.67,350.98 L1907.33,350.16 L1908.00,349.33 L1908.67,348.51 L1909.33,347.69 L1910.00,346.87 L1910.67,346.04 L1911.33,345.22 L1912.00,344.40 L1912.67,343.58 L1913.33,342.76 L1914.00,341.93 L1914.67,341.11 L1915.33,340.29 L1916.00,339.47 L1916.67,338.64 L1917.33,337.82 L1918.00,337.00 L1918.67,336.18 L1919.33,335.36 L1920.00,334.53 L1920.67,333.71 L1921.33,332.89 L1922.00,332.07 L1922.67,331.24 L1923.33,330.42 L1924.00,329.60 L1924.55,328.75 L1925.10,327.90 L1925.65,327.05 L1926.20,326.20 L1926.75,325.35 L1927.30,324.49 L1927.85,323.64 L1928.40,322.79 L1928.95,321.94 L1929.50,321.09 L1930.05,320.24 L1930.60,319.39 L1931.15,318.54 L1931.70,317.69 L1932.25,316.84 L1932.80,315.99 L1933.35,315.14 L1933.90,314.29 L1934.45,313.44 L1935.00,312.59 L1935.56,311.73 L1936.11,310.88 L1936.66,310.03 L1937.21,309.18 L1937.76,308.33 L1938.31,307.48 L1938.87,306.63 L1939.42,305.78 L1939.97,304.94 L1940.52,304.09 L1941.08,303.24 L1941.63,302.39 L1942.18,301.54 L1942.74,300.69 L1943.29,299.84 L1943.85,298.99 L1944.40,298.14 L1944.95,297.29 L1945.51,296.45 L1946.06,295.60 L1946.62,294.75 L1947.17,293.90 L1947.73,293.05 L1948.29,292.21 L1948.84,291.36 L1949.40,290.51 L1949.95,289.66 L1950.51,288.82 L1951.07,287.97 L1951.63,287.12 L1952.18,286.28 L1952.74,285.43 L1953.30,284.59 L1953.86,283.74 L1954.42,282.89 L1954.98,282.05 L1955.54,281.20 L1956.10,280.36 L1956.66,279.51 L1957.22,278.67 L1957.78,277.83 L1958.34,276.98 L1958.90,276.14 L1959.47,275.29 L1960.03,274.45 L1960.59,273.61 L1961.15,272.77 L1961.72,271.92 L1962.28,271.08 L1962.85,270.24 L1963.41,269.40 L1963.98,268.56 L1964.54,267.71 L1965.11,266.87 L1965.68,266.03 L1966.24,265.19 L1966.81,264.35 L1967.38,263.51 L1967.95,262.67 L1968.51,261.84 L1969.08,261.00 L1969.65,260.16 L1970.22,259.32 L1970.79,258.48 L1971.37,257.65 L1971.94,256.81 L1972.51,255.97 L1973.08,255.14 L1973.66,254.30 L1974.23,253.46 L1974.80,252.63 L1975.38,251.79 L1975.95,250.96 L1976.53,250.13 L1977.10,249.29 L1977.68,248.46 L1978.26,247.63 L1978.84,246.79 L1979.42,245.96 L1979.99,245.13 L1980.57,244.30 L1981.15,243.47 L1981.73,242.64 L1982.32,241.81 L1982.90,240.98 L1983.48,240.15 L1984.06,239.32 L1984.65,238.49 L1985.23,237.66 L1985.82,236.83 L1986.40,236.01 L1986.99,235.18 L1987.57,234.35 L1988.16,233.53 L1988.75,232.70 L1989.34,231.88 L1989.93,231.05 L1990.52,230.23 L1991.11,229.41 L1991.70,228.58 L1992.29,227.76 L1992.89,226.94 L1993.48,226.12 L1994.07,225.30 L1994.67,224.48 L1995.26,223.66 L1995.86,222.84 L1996.46,222.02 L1997.05,221.20 L1997.65,220.38 L1998.25,219.57 L1998.85,218.75 L1999.45,217.93 L2000.05,217.12 L2000.66,216.30 L2001.26,215.49 L2001.86,214.67 L2002.47,213.86 L2003.07,213.05 L2003.68,212.23 L2004.28,211.42 L2004.89,210.61 L2005.50,209.80 L2006.21,209.08 L2006.92,208.37 L2007.63,207.65 L2008.34,206.93 L2009.05,206.22 L2009.76,205.50 L2010.46,204.78 L2011.17,204.06 L2011.88,203.34 L2012.58,202.62 L2013.29,201.89 L2013.99,201.17 L2014.69,200.45 L2015.40,199.73 L2016.10,199.00 L2016.80,198.28 L2017.50,197.55 L2018.20,196.83 L2018.91,196.10 L2019.61,195.37 L2020.31,194.65 L2021.00,193.92 L2021.70,193.19 L2022.40,192.46 L2023.10,191.73 L2023.80,191.00 L2024.50,190.27 L2025.19,189.54 L2025.89,188.81 L2026.58,188.08 L2027.28,187.35 L2027.98,186.62 L2028.67,185.88 L2029.37,185.15 L2030.06,184.42 L2030.76,183.69 L2031.45,182.95 L2032.14,182.22 L2032.84,181.48 L2033.53,180.75 L2034.22,180.01 L2034.92,179.28 L2035.61,178.54 L2036.30,177.81 L2036.99,177.07 L2037.68,176.34 L2038.38,175.60 L2039.07,174.87 L2039.76,174.13 L2040.45,173.39 L2041.14,172.66 L2041.83,171.92 L2042.52,171.18 L2043.21,170.44 L2043.91,169.71 L2044.60,168.97 L2045.29,168.23 L2045.98,167.50 L2046.67,166.76 L2047.36,166.02 L2048.05,165.28 L2048.74,164.54 L2049.43,163.81 L2050.12,163.07 L2050.81,162.33 L2051.50,161.59 L2052.19,160.86 L2052.88,160.12 L2053.57,159.38 L2054.26,158.64 L2054.95,157.91 L2055.65,157.17 L2056.34,156.43 L2057.03,155.70 L2057.72,154.96 L2058.41,154.22 L2059.10,153.48 L2059.79,152.75 L2060.48,152.01 L2061.18,151.28 L2061.87,150.54 L2062.56,149.80 L2063.25,149.07 L2063.95,148.33 L2064.64,147.60 L2065.33,146.86 L2066.03,146.13 L2066.72,145.39 L2067.41,144.66 L2068.11,143.93 L2068.80,143.19 L2069.50,142.46 L2070.19,141.73 L2070.89,140.99 L2071.58,140.26 L2072.28,139.53 L2072.98,138.80 L2073.67,138.07 L2074.37,137.34 L2075.07,136.61 L2075.77,135.88 L2076.46,135.15 L2077.16,134.42 L2077.86,133.69 L2078.56,132.96 L2079.26,132.23 L2079.96,131.51 L2080.66,130.78 L2081.37,130.05 L2082.07,129.33 L2082.77,128.60 L2083.47,127.88 L2084.18,127.15 L2084.88,126.43 L2085.59,125.71 L2086.29,124.99 L2087.00,124.26 L2087.70,123.54 L2088.41,122.82 L2089.12,122.10 L2089.83,121.38 L2090.54,120.67 L2091.25,119.95 L2091.96,119.23 L2092.67,118.51 L2093.38,117.80 L2094.09,117.08 L2094.80,116.37 L2095.52,115.65 L2096.23,114.94 L2096.95,114.23 L2097.66,113.52 L2098.38,112.81 L2099.09,112.10 L2099.81,111.39 L2100.53,110.68 L2101.25,109.97 L2101.97,109.27 L2102.69,108.56 L2103.41,107.86 L2104.14,107.15 L2104.86,106.45 L2105.58,105.75 L2106.31,105.04 L2107.04,104.34 L2107.76,103.65 L2108.49,102.95 L2109.22,102.25 L2109.95,101.55 L2110.68,100.86 L2111.41,100.16 L2112.14,99.47 L2112.88,98.78 L2113.61,98.08 L2114.35,97.39 L2115.08,96.70 L2115.82,96.01 L2116.56,95.33 L2117.30,94.64 L2118.04,93.96 L2118.78,93.27 L2119.52,92.59 L2120.26,91.91 L2121.01,91.22 L2121.75,90.54 L2122.50,89.87 L2123.25,89.19 L2124.00,88.51 L2124.75,87.84 L2125.50,87.16 L2126.25,86.49 L2127.01,85.82 L2127.76,85.15 L2128.52,84.48 L2129.27,83.81 L2130.03,83.15 L2130.79,82.48 L2131.55,81.82 L2132.31,81.15 L2133.08,80.49 L2133.84,79.83 L2134.61,79.17 L2135.37,78.52 L2136.14,77.86 L2136.91,77.20 L2137.68,76.55 L2138.45,75.90 L2139.23,75.25 L2140.00,74.60 L2140.86,74.01 L2141.71,73.42 L2142.57,72.83 L2143.43,72.24 L2144.28,71.65 L2145.14,71.06 L2145.99,70.47 L2146.85,69.87 L2147.70,69.28 L2148.56,68.69 L2149.41,68.09 L2150.27,67.50 L2151.12,66.91 L2151.97,66.31 L2152.83,65.72 L2153.68,65.12 L2154.53,64.53 L2155.39,63.93 L2156.24,63.34 L2157.09,62.74 L2157.94,62.14 L2158.79,61.55 L2159.64,60.95 L2160.50,60.35 L2161.35,59.75 L2162.20,59.15 L2163.05,58.55 L2163.90,57.96 L2164.75,57.36 L2165.60,56.76 L2166.45,56.16 L2167.30,55.55 L2168.14,54.95 L2168.99,54.35 L2169.84,53.75 L2170.69,53.15 L2171.54,52.55 L2172.38,51.94 L2173.23,51.34 L2174.08,50.74 L2174.92,50.13 L2175.77,49.53 L2176.62,48.92 L2177.46,48.32 L2178.31,47.71 L2179.15,47.11 L2180.00,46.50" fill="none" stroke="#27ae60" stroke-width="5.4" stroke-linejoin="round"/>
</g>
<g stroke="#000" stroke-width="4.0" fill="none" stroke-linecap="square">
<rect x="118.20" y="9.60" width="410.00" height="534.70"/>
<rect x="528.20" y="9.60" width="410.00" height="534.70"/>
<rect x="938.20" y="9.60" width="410.00" height="534.70"/>
<rect x="1348.20" y="9.60" width="410.00" height="534.70"/>
<rect x="1758.20" y="9.60" width="410.00" height="534.70"/>
</g>
<g class="dv" font-size="26.5" text-anchor="end">
<text x="103.4" y="554.50">0.00</text>
<text x="103.4" y="487.66">0.05</text>
<text x="103.4" y="420.82">0.10</text>
<text x="103.4" y="353.99">0.15</text>
<text x="103.4" y="287.15">0.20</text>
<text x="103.4" y="220.31">0.25</text>
<text x="103.4" y="153.47">0.30</text>
<text x="103.4" y="86.64">0.35</text>
<text x="103.4" y="19.80">0.40</text>
</g>
<g class="dv" font-size="26.5" text-anchor="middle">
<text x="118.20" y="579.5">0</text>
<text x="254.87" y="579.5">10</text>
<text x="391.53" y="579.5">20</text>
<text x="528.20" y="579.5">0</text>
<text x="664.87" y="579.5">10</text>
<text x="801.53" y="579.5">20</text>
<text x="938.20" y="579.5">0</text>
<text x="1074.87" y="579.5">10</text>
<text x="1211.53" y="579.5">20</text>
<text x="1348.20" y="579.5">0</text>
<text x="1484.87" y="579.5">10</text>
<text x="1621.53" y="579.5">20</text>
<text x="1758.20" y="579.5">0</text>
<text x="1894.87" y="579.5">10</text>
<text x="2031.53" y="579.5">20</text>
</g>
<g class="dv" font-size="26.0">
<text x="264.20 282.00 298.70 314.00 321.70 328.80 350.60 363.30 372.00" y="614.3">Age [Myr]</text>
<text x="674.20 692.00 708.70 724.00 731.70 738.80 760.60 773.30 782.00" y="614.3">Age [Myr]</text>
<text x="1084.20 1102.00 1118.70 1134.00 1141.70 1148.80 1170.60 1183.30 1192.00" y="614.3">Age [Myr]</text>
<text x="1494.20 1512.00 1528.70 1544.00 1551.70 1558.80 1580.60 1593.30 1602.00" y="614.3">Age [Myr]</text>
<text x="1904.20 1922.00 1938.70 1954.00 1961.70 1968.80 1990.60 2003.30 2012.00" y="614.3">Age [Myr]</text>
</g>
<g transform="translate(25.9,0) rotate(-90)" class="dv" font-size="26.0"><rect x="-316.4" y="-26.1" width="8.5" height="2.6" fill="#000"/><text y="0"><tspan x="-322.3" font-style="oblique">d</tspan> <tspan x="-300.50 -293.80 -270.70 -256.30 -242.50">[mag]</tspan></text></g>
<text class="lib" font-size="31.65" transform="translate(179.95,52.15) scale(1,1.04)">Huluwa 1</text><rect x="295.81" y="48.29" width="6.00" height="5.26" fill="#fff"/><rect x="305.50" y="48.29" width="5.75" height="5.26" fill="#fff"/>
<text class="dv" font-size="31.0"><tspan font-style="oblique" x="179.20" y="94.6">σ</tspan><tspan font-size="21.0" x="199.20" y="98.9">age</tspan> <tspan x="244.40" y="93.3">=</tspan> <tspan x="276.20" y="94.0" letter-spacing="-0.3">10.3</tspan> <tspan class="lib" font-size="31.3" x="351.81" y="94.1">Myr</tspan></text>
<text class="lib" font-size="29.0" transform="translate(256.10,424.80) scale(1,1.075)">12.1 Myr</text><rect x="257.41" y="421.07" width="5.53" height="5.13" fill="#fff"/><rect x="266.41" y="421.07" width="5.31" height="5.13" fill="#fff"/><rect x="297.72" y="421.07" width="5.53" height="5.13" fill="#fff"/><rect x="306.72" y="421.07" width="5.31" height="5.13" fill="#fff"/>
<text class="lib" font-size="31.65" transform="translate(589.95,52.15) scale(1,1.04)">Huluwa 2</text>
<text class="dv" font-size="31.0"><tspan font-style="oblique" x="589.20" y="94.6">σ</tspan><tspan font-size="21.0" x="609.20" y="98.9">age</tspan> <tspan x="654.40" y="93.3">=</tspan> <tspan x="686.20" y="94.0" letter-spacing="-0.3">10.1</tspan> <tspan class="lib" font-size="31.3" x="761.81" y="94.1">Myr</tspan></text>
<text class="lib" font-size="29.0" transform="translate(656.45,418.70) scale(1,1.075)">11.4 Myr</text><rect x="657.76" y="414.97" width="5.53" height="5.13" fill="#fff"/><rect x="666.76" y="414.97" width="5.31" height="5.13" fill="#fff"/><rect x="673.89" y="414.97" width="5.53" height="5.13" fill="#fff"/><rect x="682.88" y="414.97" width="5.31" height="5.13" fill="#fff"/>
<text class="lib" font-size="31.65" transform="translate(999.95,52.15) scale(1,1.04)">Huluwa 3</text>
<text class="dv" font-size="31.0"><tspan font-style="oblique" x="999.20" y="94.6">σ</tspan><tspan font-size="21.0" x="1019.20" y="98.9">age</tspan> <tspan x="1064.40" y="93.3">=</tspan> <tspan x="1096.20" y="94.0" letter-spacing="-0.3">9.0</tspan> <tspan class="lib" font-size="31.3" x="1152.39" y="94.1">Myr</tspan></text>
<text class="lib" font-size="29.0" transform="translate(1055.45,420.80) scale(1,1.075)">10.6 Myr</text><rect x="1056.76" y="417.07" width="5.53" height="5.13" fill="#fff"/><rect x="1065.76" y="417.07" width="5.31" height="5.13" fill="#fff"/>
<text class="lib" font-size="31.65" transform="translate(1409.95,52.15) scale(1,1.04)">Huluwa 4</text>
<text class="dv" font-size="31.0"><tspan font-style="oblique" x="1409.20" y="94.6">σ</tspan><tspan font-size="21.0" x="1429.20" y="98.9">age</tspan> <tspan x="1474.40" y="93.3">=</tspan> <tspan x="1506.20" y="94.0" letter-spacing="-0.3">9.7</tspan> <tspan class="lib" font-size="31.3" x="1562.39" y="94.1">Myr</tspan></text>
<text class="lib" font-size="29.0" transform="translate(1461.45,404.65) scale(1,1.075)">10.3 Myr</text><rect x="1462.76" y="400.92" width="5.53" height="5.13" fill="#fff"/><rect x="1471.76" y="400.92" width="5.31" height="5.13" fill="#fff"/>
<text class="lib" font-size="31.65" transform="translate(1819.95,52.15) scale(1,1.04)">Huluwa 5</text>
<text class="dv" font-size="31.0"><tspan font-style="oblique" x="1819.20" y="94.6">σ</tspan><tspan font-size="21.0" x="1839.20" y="98.9">age</tspan> <tspan x="1884.40" y="93.3">=</tspan> <tspan x="1916.20" y="94.0" letter-spacing="-0.3">7.0</tspan> <tspan class="lib" font-size="31.3" x="1972.39" y="94.1">Myr</tspan></text>
<text class="lib" font-size="29.0" transform="translate(1833.00,418.55) scale(1,1.075)">7.5 Myr</text>
</svg></body></html>
